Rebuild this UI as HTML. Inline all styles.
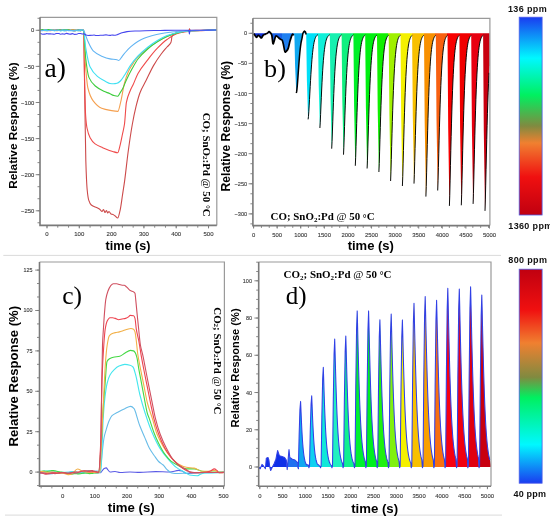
<!DOCTYPE html>
<html><head><meta charset="utf-8"><style>html,body{margin:0;padding:0;background:#fff;}body{width:550px;height:517px;overflow:hidden;}svg{display:block;will-change:transform;}</style></head>
<body><svg width="550" height="517" viewBox="0 0 550 517"><path d="M3.3,255.4 H501" stroke="#dadada" stroke-width="1"/>
<path d="M5,515.1 H502" stroke="#dadada" stroke-width="1"/>
<path d="M40.5,30.22 C41.17,30.17 41.83,30.05 42.5,30.05 C43.17,30.05 43.83,30.55 44.5,30.55 C45.17,30.55 45.83,29.97 46.5,29.97 C47.17,29.97 47.83,30.44 48.5,30.44 C49.17,30.44 49.83,30.34 50.5,30.27 C51.17,30.19 51.83,29.96 52.5,29.96 C53.17,29.96 53.83,30.41 54.5,30.41 C55.17,30.41 55.83,29.94 56.5,29.94 C57.17,29.94 57.83,30.33 58.5,30.33 C59.17,30.33 59.83,29.97 60.5,29.97 C61.17,29.97 61.83,29.98 62.5,29.99 C63.17,30 63.83,30.2 64.5,30.32 C65.17,30.45 65.83,30.73 66.5,30.73 C67.17,30.73 67.83,30.02 68.5,30.02 C69.17,30.02 69.83,30.07 70.5,30.12 C71.17,30.18 71.83,30.41 72.5,30.53 C73.17,30.65 73.83,30.85 74.5,30.85 C75.17,30.85 75.83,30.56 76.5,30.48 C77.17,30.4 77.83,30.3 78.5,30.3 C79.17,30.3 79.83,30.88 80.5,30.88 C81.17,30.88 81.83,29.95 82.5,29.95 C82.87,29.95 83.23,30.1 83.6,30.4 C84,30.72 84.4,76.39 84.8,100 C85.13,119.67 85.47,149.19 85.8,160 C86.27,175.14 86.73,185.29 87.2,190 C87.73,195.38 88.27,198.81 88.8,200.4 C89.63,202.89 90.47,204.31 91.3,205 C93.4,206.74 95.5,206.84 97.6,208 C98.4,208.44 99.2,208.88 100,209.5 C100.67,210.02 101.33,211.5 102,211.5 C102.5,211.5 103,209.5 103.5,209.5 C104,209.5 104.5,212.5 105,212.5 C105.5,212.5 106,210.5 106.5,210.5 C106.9,210.5 107.3,213 107.7,213 C108.13,213 108.57,211.5 109,211.5 C109.67,211.5 110.33,213.72 111,214 C111.67,214.28 112.33,214.26 113,214.5 C113.73,214.77 114.47,215.46 115.2,216 C116.03,216.61 116.87,218 117.7,218 C118.53,218 119.37,213.44 120.2,209.8 C120.97,206.45 121.73,200.03 122.5,195 C123.27,189.97 124.03,185.25 124.8,179.6 C125.87,171.73 126.93,160.93 128,153 C129.4,142.59 130.8,132.82 132.2,125 C133.5,117.74 134.8,111.44 136.1,106.2 C137.4,100.96 138.7,96.05 140,92.7 C141.93,87.71 143.87,84.98 145.8,81.1 C148.37,75.95 150.93,70.02 153.5,65.6 C156.07,61.18 158.63,57.42 161.2,54 C163.13,51.42 165.07,49.28 167,47 C168.3,45.47 169.6,45.21 170.9,42.5 C171.07,42.15 171.23,41.4 171.4,40.5 C171.57,39.6 171.73,36.7 171.9,36.4 C173.5,33.49 175.1,33.16 176.7,32.7 C178.4,32.21 180.1,32.1 181.8,31.8 C184.2,31.37 186.6,31.61 189,30.5 C189.17,30.42 189.33,28.8 189.5,28.8 C189.73,28.8 189.97,30.5 190.2,30.5 C193.47,30.5 196.73,30.26 200,30.2 C205.47,30.1 210.93,30.07 216.4,30" fill="none" stroke="#cc4a4a" stroke-width="1.1" stroke-linejoin="round" stroke-linecap="round"/>
<path d="M40.5,30.29 C41.17,30.3 41.83,30.32 42.5,30.32 C43.17,30.32 43.83,30.07 44.5,29.99 C45.17,29.9 45.83,29.84 46.5,29.76 C47.17,29.68 47.83,29.5 48.5,29.5 C49.17,29.5 49.83,30.16 50.5,30.16 C51.17,30.16 51.83,29.97 52.5,29.97 C53.17,29.97 53.83,30.26 54.5,30.26 C55.17,30.26 55.83,29.87 56.5,29.87 C57.17,29.87 57.83,30.27 58.5,30.27 C59.17,30.27 59.83,29.77 60.5,29.77 C61.17,29.77 61.83,30.3 62.5,30.3 C63.17,30.3 63.83,30.27 64.5,30.23 C65.17,30.19 65.83,29.91 66.5,29.91 C67.17,29.91 67.83,29.99 68.5,30.04 C69.17,30.08 69.83,30.18 70.5,30.18 C71.17,30.18 71.83,29.69 72.5,29.69 C73.17,29.69 73.83,29.95 74.5,30.05 C75.17,30.15 75.83,30.31 76.5,30.31 C77.17,30.31 77.83,29.77 78.5,29.77 C79.17,29.77 79.83,30.3 80.5,30.3 C81.17,30.3 81.83,30.25 82.5,30.19 C82.87,30.15 83.23,30 83.6,30 C83.93,30 84.27,66.27 84.6,80 C84.93,93.73 85.27,109.94 85.6,115 C86.07,122.08 86.53,125.67 87,128 C88.03,133.16 89.07,135.8 90.1,137.7 C91.77,140.76 93.43,142.67 95.1,143.9 C97.6,145.75 100.1,146.61 102.6,147.7 C105.97,149.16 109.33,150.54 112.7,151.5 C114.37,151.98 116.03,152.7 117.7,152.7 C118.53,152.7 119.37,147.96 120.2,144.8 C120.97,141.9 121.73,137.72 122.5,134 C123.17,130.77 123.83,128.65 124.5,124 C125.13,119.59 125.77,105.66 126.4,102.4 C127.7,95.7 129,93.68 130.3,90.5 C131.27,88.14 132.23,86.6 133.2,84.5 C134.8,81.02 136.4,76.27 138,73.4 C141.23,67.6 144.47,63.97 147.7,59.8 C150.93,55.63 154.17,51.53 157.4,48.2 C160.6,44.9 163.8,41.81 167,39.5 C170.23,37.17 173.47,34.68 176.7,33.7 C179.8,32.76 182.9,32.14 186,31.8 C191.17,31.23 196.33,30.99 201.5,30.7 C206.47,30.42 211.43,30.23 216.4,30" fill="none" stroke="#ef4b4b" stroke-width="1.1" stroke-linejoin="round" stroke-linecap="round"/>
<path d="M40.5,30.42 C41.17,30.46 41.83,30.52 42.5,30.54 C43.17,30.57 43.83,30.57 44.5,30.6 C45.17,30.62 45.83,30.74 46.5,30.74 C47.17,30.74 47.83,30.54 48.5,30.54 C49.17,30.54 49.83,30.72 50.5,30.72 C51.17,30.72 51.83,29.83 52.5,29.83 C53.17,29.83 53.83,30.11 54.5,30.27 C55.17,30.42 55.83,30.74 56.5,30.74 C57.17,30.74 57.83,30.45 58.5,30.45 C59.17,30.45 59.83,30.7 60.5,30.7 C61.17,30.7 61.83,29.91 62.5,29.91 C63.17,29.91 63.83,30.27 64.5,30.27 C65.17,30.27 65.83,30.05 66.5,30.05 C67.17,30.05 67.83,30.33 68.5,30.34 C69.17,30.36 69.83,30.37 70.5,30.37 C71.17,30.37 71.83,29.81 72.5,29.81 C73.17,29.81 73.83,29.98 74.5,30.02 C75.17,30.05 75.83,30.04 76.5,30.08 C77.17,30.12 77.83,30.72 78.5,30.72 C79.17,30.72 79.83,30.65 80.5,30.57 C81.17,30.49 81.83,29.96 82.5,29.96 C82.87,29.96 83.23,30.09 83.6,30.3 C84.17,30.62 84.73,55.12 85.3,62.6 C86.17,74.04 87.03,84.37 87.9,88 C89.67,95.39 91.43,98.55 93.2,100.9 C96.03,104.67 98.87,107.21 101.7,108.3 C104.53,109.39 107.37,109.92 110.2,110.4 C112.73,110.83 115.27,111.4 117.8,111.4 C118.73,111.4 119.67,106 120.6,102.4 C121.9,97.38 123.2,87.84 124.5,83 C125.8,78.16 127.1,74.22 128.4,71.4 C130.33,67.21 132.27,64.58 134.2,61.8 C135.47,59.98 136.73,58.26 138,56.9 C141.23,53.43 144.47,50.92 147.7,48.4 C150.93,45.88 154.17,43.58 157.4,41.6 C160.6,39.64 163.8,37.79 167,36.4 C170.23,35 173.47,33.65 176.7,32.9 C180.47,32.03 184.23,31.24 188,31 C197.47,30.39 206.93,30.33 216.4,30" fill="none" stroke="#f5a050" stroke-width="1.1" stroke-linejoin="round" stroke-linecap="round"/>
<path d="M40.5,29.74 C41.17,29.69 41.83,29.6 42.5,29.6 C43.17,29.6 43.83,29.9 44.5,29.9 C45.17,29.9 45.83,29.7 46.5,29.65 C47.17,29.61 47.83,29.57 48.5,29.57 C49.17,29.57 49.83,29.77 50.5,29.9 C51.17,30.04 51.83,30.42 52.5,30.42 C53.17,30.42 53.83,30.32 54.5,30.3 C55.17,30.28 55.83,30.29 56.5,30.27 C57.17,30.24 57.83,29.72 58.5,29.72 C59.17,29.72 59.83,30.04 60.5,30.04 C61.17,30.04 61.83,29.83 62.5,29.78 C63.17,29.73 63.83,29.7 64.5,29.67 C65.17,29.65 65.83,29.61 66.5,29.61 C67.17,29.61 67.83,29.65 68.5,29.71 C69.17,29.78 69.83,30.43 70.5,30.43 C71.17,30.43 71.83,30.34 72.5,30.33 C73.17,30.32 73.83,30.31 74.5,30.31 C75.17,30.3 75.83,30.3 76.5,30.3 C77.17,30.3 77.83,29.69 78.5,29.69 C79.17,29.69 79.83,29.75 80.5,29.81 C81.17,29.87 81.83,30.13 82.5,30.13 C82.87,30.13 83.23,30 83.6,30 C84.3,30 85,52.35 85.7,58.3 C86.77,67.37 87.83,74.88 88.9,77.4 C91.03,82.43 93.17,84.15 95.3,86 C98.13,88.46 100.97,89.96 103.8,91.3 C105.87,92.28 107.93,92.8 110,93.7 C111.17,94.21 112.33,95.05 113.5,95.4 C114.93,95.83 116.37,96.3 117.8,96.3 C118.53,96.3 119.27,94.14 120,93 C120.87,91.65 121.73,90.43 122.6,88.8 C123.87,86.42 125.13,82.71 126.4,80 C128.33,75.87 130.27,72.07 132.2,68.6 C134.13,65.13 136.07,61.51 138,59 C141.23,54.81 144.47,51.79 147.7,49 C150.93,46.21 154.17,43.82 157.4,41.8 C160.6,39.8 163.8,37.99 167,36.6 C170.23,35.2 173.47,33.9 176.7,33.1 C180.47,32.17 184.23,31.25 188,31 C197.47,30.38 206.93,30.33 216.4,30" fill="none" stroke="#3ccc3c" stroke-width="1.1" stroke-linejoin="round" stroke-linecap="round"/>
<path d="M40.5,30.24 C41.17,30.34 41.83,30.54 42.5,30.54 C43.17,30.54 43.83,30.37 44.5,30.37 C45.17,30.37 45.83,30.59 46.5,30.6 C47.17,30.62 47.83,30.63 48.5,30.63 C49.17,30.63 49.83,30.1 50.5,30.07 C51.17,30.03 51.83,30.01 52.5,30.01 C53.17,30.01 53.83,30.84 54.5,30.84 C55.17,30.84 55.83,30.28 56.5,30.26 C57.17,30.24 57.83,30.23 58.5,30.23 C59.17,30.23 59.83,31 60.5,31 C61.17,31 61.83,30.47 62.5,30.47 C63.17,30.47 63.83,30.84 64.5,30.84 C65.17,30.84 65.83,30.48 66.5,30.48 C67.17,30.48 67.83,30.64 68.5,30.64 C69.17,30.64 69.83,30.15 70.5,30.15 C71.17,30.15 71.83,30.53 72.5,30.63 C73.17,30.74 73.83,30.87 74.5,30.87 C75.17,30.87 75.83,30.52 76.5,30.52 C77.17,30.52 77.83,30.74 78.5,30.74 C79.17,30.74 79.83,30.71 80.5,30.67 C81.17,30.63 81.83,30.06 82.5,30.06 C82.87,30.06 83.23,30.25 83.6,30.5 C84.3,30.98 85,43.53 85.7,47.7 C87.13,56.25 88.57,63.78 90,66.8 C92.47,72.01 94.93,74.32 97.4,76.4 C100.27,78.82 103.13,80.24 106,81.7 C107.33,82.38 108.67,83.31 110,83.5 C111.13,83.66 112.27,83.8 113.4,83.8 C114.6,83.8 115.8,83.58 117,83.3 C118.13,83.04 119.27,82.02 120.4,81 C121.77,79.77 123.13,77.36 124.5,75.3 C126.43,72.38 128.37,68.38 130.3,65.6 C132.87,61.91 135.43,58.71 138,56 C141.23,52.58 144.47,49.74 147.7,47.2 C150.93,44.66 154.17,42.4 157.4,40.5 C160.6,38.62 163.8,36.81 167,35.6 C170.23,34.38 173.47,33.34 176.7,32.7 C181.13,31.83 185.57,31.04 190,30.8 C198.8,30.33 207.6,30.27 216.4,30" fill="none" stroke="#3ee0f2" stroke-width="1.1" stroke-linejoin="round" stroke-linecap="round"/>
<path d="M40.5,30.66 C41.17,30.65 41.83,30.65 42.5,30.65 C43.17,30.64 43.83,29.76 44.5,29.76 C45.17,29.76 45.83,29.77 46.5,29.78 C47.17,29.8 47.83,30.54 48.5,30.54 C49.17,30.54 49.83,30.46 50.5,30.44 C51.17,30.41 51.83,30.41 52.5,30.37 C53.17,30.33 53.83,30.01 54.5,30.01 C55.17,30.01 55.83,30.31 56.5,30.31 C57.17,30.31 57.83,30.31 58.5,30.31 C59.17,30.31 59.83,30.3 60.5,30.28 C61.17,30.27 61.83,29.86 62.5,29.86 C63.17,29.86 63.83,30.13 64.5,30.13 C65.17,30.13 65.83,30.09 66.5,30.09 C67.17,30.09 67.83,30.32 68.5,30.42 C69.17,30.52 69.83,30.69 70.5,30.69 C71.17,30.69 71.83,30.68 72.5,30.65 C73.17,30.62 73.83,30.3 74.5,30.24 C75.17,30.19 75.83,30.19 76.5,30.14 C77.17,30.1 77.83,30.04 78.5,29.97 C79.17,29.9 79.83,29.74 80.5,29.74 C81.17,29.73 81.83,29.73 82.5,29.73 C82.87,29.73 83.23,29.95 83.6,30.2 C84.23,30.64 84.87,33.37 85.5,35 C86.3,37.06 87.1,39.54 87.9,41.3 C89.67,45.18 91.43,49.2 93.2,50.9 C96.03,53.63 98.87,54.99 101.7,56.2 C104.47,57.38 107.23,58.4 110,58.9 C112.33,59.32 114.67,59.29 117,59.8 C117.57,59.92 118.13,60.5 118.7,60.5 C119.87,60.5 121.03,57.72 122.2,56.3 C123.37,54.88 124.53,53.31 125.7,52 C127.43,50.06 129.17,48.21 130.9,46.7 C133.2,44.69 135.5,42.88 137.8,41.5 C140.13,40.1 142.47,38.91 144.8,38 C147.1,37.1 149.4,36.44 151.7,35.8 C154.6,35 157.5,34.23 160.4,33.7 C163.6,33.12 166.8,32.7 170,32.3 C173.33,31.88 176.67,31.39 180,31.2 C186.67,30.82 193.33,30.72 200,30.5 C205.47,30.32 210.93,30.17 216.4,30" fill="none" stroke="#62b4f2" stroke-width="1.1" stroke-linejoin="round" stroke-linecap="round"/>
<path d="M40.5,33.53 C41.17,33.77 41.83,34.25 42.5,34.25 C43.17,34.25 43.83,34.21 44.5,34.16 C45.17,34.12 45.83,33.66 46.5,33.66 C47.17,33.66 47.83,33.9 48.5,33.9 C49.17,33.9 49.83,33.85 50.5,33.85 C51.17,33.85 51.83,34 52.5,34.05 C53.17,34.11 53.83,34.19 54.5,34.19 C55.17,34.19 55.83,33.53 56.5,33.49 C57.17,33.45 57.83,33.43 58.5,33.43 C59.17,33.43 59.83,34.24 60.5,34.24 C61.17,34.24 61.83,33.83 62.5,33.83 C63.17,33.83 63.83,34.16 64.5,34.16 C65.17,34.16 65.83,33.4 66.5,33.4 C67.17,33.4 67.83,33.73 68.5,33.85 C69.17,33.96 69.83,34.12 70.5,34.12 C71.17,34.12 71.83,33.63 72.5,33.63 C73.17,33.63 73.83,34.35 74.5,34.35 C75.17,34.35 75.83,34.33 76.5,34.3 C77.17,34.27 77.83,33.43 78.5,33.43 C79.17,33.43 79.83,33.43 80.5,33.43 C81.17,33.43 81.83,33.94 82.5,33.94 C83,33.94 83.5,33.9 84,33.9 C84.67,33.9 85.33,34.83 86,35.03 C86.67,35.24 87.33,35.45 88,35.45 C88.67,35.45 89.33,35.43 90,35.41 C90.67,35.39 91.33,35.34 92,35.28 C92.67,35.23 93.33,35.07 94,35.07 C94.67,35.07 95.33,35.53 96,35.53 C96.67,35.54 97.33,35.55 98,35.55 C98.67,35.55 99.33,35.31 100,35.31 C100.67,35.31 101.33,35.31 102,35.3 C102.67,35.3 103.33,35.16 104,35.09 C104.67,35.02 105.33,34.9 106,34.9 C106.67,34.9 107.33,35.12 108,35.2 C108.67,35.27 109.33,35.37 110,35.37 C110.67,35.37 111.33,34.96 112,34.96 C112.67,34.96 113.33,35.3 114,35.3 C115.33,35.3 116.67,34.78 118,34.4 C119.33,34.02 120.67,33.2 122,32.8 C123.67,32.3 125.33,31.8 127,31.6 C129.67,31.28 132.33,31.12 135,31 C138.33,30.85 141.67,30.76 145,30.7 C150,30.61 155,30.57 160,30.5 C165,30.43 170,30.3 175,30.3 C179.6,30.3 184.2,30.3 188.8,30.3 C189,30.3 189.2,34.3 189.4,34.3 C189.6,34.3 189.8,30.31 190,30.3 C193.33,30.21 196.67,30.24 200,30.2 C205.47,30.14 210.93,30.07 216.4,30" fill="none" stroke="#4646ee" stroke-width="1.1" stroke-linejoin="round" stroke-linecap="round"/>
<path d="M40,17.3 H216.8 V225.4" fill="none" stroke="#9a9a9a" stroke-width="1.2"/>
<path d="M40,17.3 V225.4 H216.8" fill="none" stroke="#7a7a7a" stroke-width="1.6"/>
<path d="M37.5,18.27 H40 M37.5,30.3 H40 M37.5,42.33 H40 M37.5,54.36 H40 M37.5,66.39 H40 M37.5,78.42 H40 M37.5,90.45 H40 M37.5,102.48 H40 M37.5,114.51 H40 M37.5,126.54 H40 M37.5,138.57 H40 M37.5,150.6 H40 M37.5,162.63 H40 M37.5,174.66 H40 M37.5,186.69 H40 M37.5,198.72 H40 M37.5,210.75 H40 M37.5,222.78 H40 M35.7,30.3 H40 M35.7,66.4 H40 M35.7,102.5 H40 M35.7,138.6 H40 M35.7,174.7 H40 M35.7,210.8 H40 " stroke="#7a7a7a" stroke-width="0.9" fill="none"/>
<text x="34.3" y="32.42" font-family='"Liberation Sans", sans-serif' font-size="5.9" font-weight="normal" text-anchor="end" fill="#3a3a3a" stroke="#3a3a3a" stroke-width="0.12">0</text>
<text x="34.3" y="68.52" font-family='"Liberation Sans", sans-serif' font-size="5.9" font-weight="normal" text-anchor="end" fill="#3a3a3a" stroke="#3a3a3a" stroke-width="0.12">−50</text>
<text x="34.3" y="104.62" font-family='"Liberation Sans", sans-serif' font-size="5.9" font-weight="normal" text-anchor="end" fill="#3a3a3a" stroke="#3a3a3a" stroke-width="0.12">−100</text>
<text x="34.3" y="140.72" font-family='"Liberation Sans", sans-serif' font-size="5.9" font-weight="normal" text-anchor="end" fill="#3a3a3a" stroke="#3a3a3a" stroke-width="0.12">−150</text>
<text x="34.3" y="176.82" font-family='"Liberation Sans", sans-serif' font-size="5.9" font-weight="normal" text-anchor="end" fill="#3a3a3a" stroke="#3a3a3a" stroke-width="0.12">−200</text>
<text x="34.3" y="212.92" font-family='"Liberation Sans", sans-serif' font-size="5.9" font-weight="normal" text-anchor="end" fill="#3a3a3a" stroke="#3a3a3a" stroke-width="0.12">−250</text>
<path d="M47,225.4 V227.7 M57.77,225.4 V227.7 M68.54,225.4 V227.7 M79.31,225.4 V227.7 M90.08,225.4 V227.7 M100.85,225.4 V227.7 M111.62,225.4 V227.7 M122.39,225.4 V227.7 M133.16,225.4 V227.7 M143.93,225.4 V227.7 M154.7,225.4 V227.7 M165.47,225.4 V227.7 M176.24,225.4 V227.7 M187.01,225.4 V227.7 M197.78,225.4 V227.7 M208.55,225.4 V227.7 M47,225.4 V228.4 M79.3,225.4 V228.4 M111.6,225.4 V228.4 M143.9,225.4 V228.4 M176.2,225.4 V228.4 M208.5,225.4 V228.4 " stroke="#7a7a7a" stroke-width="0.9" fill="none"/>
<text x="47" y="236" font-family='"Liberation Sans", sans-serif' font-size="6" font-weight="normal" text-anchor="middle" fill="#3a3a3a" stroke="#3a3a3a" stroke-width="0.12">0</text>
<text x="79.3" y="236" font-family='"Liberation Sans", sans-serif' font-size="6" font-weight="normal" text-anchor="middle" fill="#3a3a3a" stroke="#3a3a3a" stroke-width="0.12">100</text>
<text x="111.6" y="236" font-family='"Liberation Sans", sans-serif' font-size="6" font-weight="normal" text-anchor="middle" fill="#3a3a3a" stroke="#3a3a3a" stroke-width="0.12">200</text>
<text x="143.9" y="236" font-family='"Liberation Sans", sans-serif' font-size="6" font-weight="normal" text-anchor="middle" fill="#3a3a3a" stroke="#3a3a3a" stroke-width="0.12">300</text>
<text x="176.2" y="236" font-family='"Liberation Sans", sans-serif' font-size="6" font-weight="normal" text-anchor="middle" fill="#3a3a3a" stroke="#3a3a3a" stroke-width="0.12">400</text>
<text x="208.5" y="236" font-family='"Liberation Sans", sans-serif' font-size="6" font-weight="normal" text-anchor="middle" fill="#3a3a3a" stroke="#3a3a3a" stroke-width="0.12">500</text>
<text x="12.5" y="125.5" font-family='"Liberation Sans", sans-serif' font-size="11.8" font-weight="bold" text-anchor="middle" fill="#000" transform="rotate(-90 12.5 125.5)" dominant-baseline="central">Relative Response (%)</text>
<text x="128" y="250" font-family='"Liberation Sans", sans-serif' font-size="12.6" font-weight="bold" text-anchor="middle" fill="#000" >time (s)</text>
<text x="55.2" y="77.4" font-family='"Liberation Serif", serif' font-size="27.5" font-weight="normal" text-anchor="middle" fill="#000" >a)</text>
<text x="206.8" y="164.7" font-family='"Liberation Serif", serif' font-size="10.9" font-weight="bold" text-anchor="middle" fill="#000"  transform="rotate(90 206.8 164.7)" dominant-baseline="central">CO; SnO<tspan font-size="7" dy="2">2</tspan><tspan dy="-2">:Pd <tspan font-weight="normal">@</tspan> 50 </tspan><tspan font-size="9.5" dy="1.8">°</tspan><tspan dy="-1.8">C</tspan></text>
<defs><linearGradient id="gb" gradientUnits="userSpaceOnUse" x1="253" y1="0" x2="490" y2="0"><stop offset="0.0000" stop-color="#1030d8"/><stop offset="0.0734" stop-color="#1030d8"/><stop offset="0.0734" stop-color="#1860e8"/><stop offset="0.1232" stop-color="#1860e8"/><stop offset="0.1232" stop-color="#2080f0"/><stop offset="0.1730" stop-color="#2080f0"/><stop offset="0.1730" stop-color="#10a8f0"/><stop offset="0.2227" stop-color="#10a8f0"/><stop offset="0.2227" stop-color="#00e0f8"/><stop offset="0.2725" stop-color="#00e0f8"/><stop offset="0.2725" stop-color="#10f0d8"/><stop offset="0.3222" stop-color="#10f0d8"/><stop offset="0.3222" stop-color="#18f0b0"/><stop offset="0.3720" stop-color="#18f0b0"/><stop offset="0.3720" stop-color="#10f080"/><stop offset="0.4217" stop-color="#10f080"/><stop offset="0.4217" stop-color="#00f028"/><stop offset="0.4715" stop-color="#00f028"/><stop offset="0.4715" stop-color="#00f010"/><stop offset="0.5212" stop-color="#00f010"/><stop offset="0.5212" stop-color="#10f000"/><stop offset="0.5710" stop-color="#10f000"/><stop offset="0.5710" stop-color="#a0f000"/><stop offset="0.6207" stop-color="#a0f000"/><stop offset="0.6207" stop-color="#f4f000"/><stop offset="0.6705" stop-color="#f4f000"/><stop offset="0.6705" stop-color="#f8c000"/><stop offset="0.7202" stop-color="#f8c000"/><stop offset="0.7202" stop-color="#f89000"/><stop offset="0.7700" stop-color="#f89000"/><stop offset="0.7700" stop-color="#f86010"/><stop offset="0.8197" stop-color="#f86010"/><stop offset="0.8197" stop-color="#f80000"/><stop offset="0.8695" stop-color="#f80000"/><stop offset="0.8695" stop-color="#f00000"/><stop offset="0.9192" stop-color="#f00000"/><stop offset="0.9192" stop-color="#e80010"/><stop offset="0.9689" stop-color="#e80010"/><stop offset="0.9689" stop-color="#c80010"/><stop offset="1.0000" stop-color="#c80010"/></linearGradient></defs>
<path d="M253.3,33.3 L253.6,33.6 L254.9,35.3 L256.5,37.5 L258.2,35.3 L259.8,36.5 L261.5,38 L263.1,35.3 L265.3,34.2 L267.5,33.1 L269.1,31.5 L270.2,32.5 L271.8,35.3 L272.9,43.5 L274,41.8 L275.6,36.4 L277.3,36.4 L278.9,38 L281.1,39.6 L282.2,40.2 L283.3,44 L284.9,51.6 L286.5,51.1 L288.2,48.4 L289.8,41.8 L291.5,36.4 L292.5,34.2 L293.6,35.3 L294.4,35.5 L295.1,66.13 L296.3,93 L296.65,91.68 L297,88.82 L297.35,84.97 L297.7,80.48 L298.05,75.64 L298.4,70.69 L298.75,65.83 L299.1,61.2 L299.45,56.92 L299.8,53.05 L300.15,49.62 L300.5,46.65 L300.85,44.11 L301.2,41.99 L301.55,40.25 L301.9,38.83 L302.9,33.4 L303.7,31.8 L304.5,31.1 L305.4,31.8 L306.2,34.5 L306.9,80.66 L308.1,119.4 L308.45,116.63 L308.8,111.79 L309.15,105.95 L309.5,99.59 L309.85,93.06 L310.2,86.6 L310.55,80.37 L310.9,74.5 L311.25,69.07 L311.6,64.12 L311.95,59.66 L312.3,55.71 L312.65,52.24 L313,49.22 L313.35,46.62 L313.7,44.4 L314.05,42.52 L314.4,40.95 L314.75,39.63 L315.1,38.55 L315.45,37.65 L315.8,36.92 L316.15,36.33 L316.5,35.86 L316.85,35.47 L317.2,35.17 L317.55,34.93 L317.9,34.74 L318,34.69 L318.7,85.39 L319.9,128 L320.25,122.18 L320.6,114.31 L320.95,106 L321.3,97.8 L321.65,90 L322,82.76 L322.35,76.16 L322.7,70.22 L323.05,64.94 L323.4,60.29 L323.75,56.23 L324.1,52.71 L324.45,49.68 L324.8,47.1 L325.15,44.89 L325.5,43.03 L325.85,41.47 L326.2,40.15 L326.55,39.06 L326.9,38.15 L327.25,37.39 L327.6,36.77 L327.95,36.26 L328.3,35.85 L328.65,35.5 L329,35.23 L329.35,35 L329.7,34.82 L329.8,34.78 L330.5,96.77 L331.7,148.7 L332.05,141.6 L332.4,131.99 L332.75,121.85 L333.1,111.84 L333.45,102.33 L333.8,93.49 L334.15,85.43 L334.5,78.18 L334.85,71.74 L335.2,66.06 L335.55,61.11 L335.9,56.81 L336.25,53.12 L336.6,49.96 L336.95,47.27 L337.3,45 L337.65,43.09 L338,41.49 L338.35,40.15 L338.7,39.04 L339.05,38.12 L339.4,37.36 L339.75,36.74 L340.1,36.23 L340.45,35.81 L340.8,35.48 L341.15,35.2 L341.5,34.98 L341.6,34.92 L342.3,100.07 L343.5,154.7 L343.85,147.22 L344.2,137.12 L344.55,126.44 L344.9,115.92 L345.25,105.9 L345.6,96.6 L345.95,88.12 L346.3,80.49 L346.65,73.71 L347,67.73 L347.35,62.52 L347.7,58 L348.05,54.12 L348.4,50.79 L348.75,47.96 L349.1,45.57 L349.45,43.56 L349.8,41.87 L350.15,40.47 L350.5,39.3 L350.85,38.33 L351.2,37.53 L351.55,36.88 L351.9,36.34 L352.25,35.9 L352.6,35.55 L352.95,35.26 L353.3,35.03 L353.4,34.97 L354.1,106.17 L355.3,165.8 L355.65,157.64 L356,146.6 L356.35,134.94 L356.7,123.45 L357.05,112.51 L357.4,102.35 L357.75,93.09 L358.1,84.76 L358.45,77.35 L358.8,70.83 L359.15,65.14 L359.5,60.2 L359.85,55.96 L360.2,52.33 L360.55,49.24 L360.9,46.63 L361.25,44.43 L361.6,42.59 L361.95,41.05 L362.3,39.78 L362.65,38.72 L363,37.85 L363.35,37.13 L363.7,36.55 L364.05,36.07 L364.4,35.68 L364.75,35.37 L365.1,35.11 L365.2,35.05 L365.9,107.66 L367.1,168.5 L367.45,160.17 L367.8,148.91 L368.15,137.01 L368.5,125.28 L368.85,114.12 L369.2,103.75 L369.55,94.3 L369.9,85.8 L370.25,78.24 L370.6,71.58 L370.95,65.77 L371.3,60.74 L371.65,56.41 L372,52.7 L372.35,49.55 L372.7,46.89 L373.05,44.64 L373.4,42.76 L373.75,41.2 L374.1,39.89 L374.45,38.81 L374.8,37.93 L375.15,37.2 L375.5,36.6 L375.85,36.11 L376.2,35.71 L376.55,35.39 L376.9,35.13 L377,35.07 L377.7,109.58 L378.9,172 L379.25,163.45 L379.6,151.89 L379.95,139.69 L380.3,127.65 L380.65,116.2 L381,105.57 L381.35,95.87 L381.7,87.14 L382.05,79.39 L382.4,72.56 L382.75,66.6 L383.1,61.43 L383.45,56.99 L383.8,53.19 L384.15,49.95 L384.5,47.22 L384.85,44.92 L385.2,42.99 L385.55,41.38 L385.9,40.04 L386.25,38.94 L386.6,38.03 L386.95,37.28 L387.3,36.66 L387.65,36.16 L388,35.76 L388.35,35.43 L388.7,35.16 L389.4,114.53 L390.6,181 L390.95,171.89 L391.3,159.58 L391.65,146.58 L392,133.76 L392.35,121.56 L392.7,110.23 L393.05,99.9 L393.4,90.61 L393.75,82.34 L394.1,75.07 L394.45,68.72 L394.8,63.22 L395.15,58.48 L395.5,54.43 L395.85,50.99 L396.2,48.07 L396.55,45.62 L396.9,43.57 L397.25,41.86 L397.6,40.43 L397.95,39.25 L398.3,38.28 L398.65,37.48 L399,36.83 L399.35,36.3 L399.7,35.86 L400.05,35.51 L400.4,35.23 L400.5,35.16 L401.2,117.28 L402.4,186 L402.75,176.58 L403.1,163.85 L403.45,150.41 L403.8,137.15 L404.15,124.53 L404.5,112.82 L404.85,102.14 L405.2,92.53 L405.55,83.99 L405.9,76.46 L406.25,69.9 L406.6,64.21 L406.95,59.31 L407.3,55.12 L407.65,51.56 L408,48.55 L408.35,46.02 L408.7,43.89 L409.05,42.12 L409.4,40.65 L409.75,39.43 L410.1,38.42 L410.45,37.6 L410.8,36.92 L411.15,36.37 L411.5,35.92 L411.85,35.56 L412.1,35.34 L412.8,115.97 L414,183.6 L414.35,174.33 L414.7,161.8 L415.05,148.57 L415.4,135.52 L415.75,123.11 L416.1,111.58 L416.45,101.06 L416.8,91.61 L417.15,83.2 L417.5,75.79 L417.85,69.33 L418.2,63.73 L418.55,58.91 L418.9,54.79 L419.25,51.29 L419.6,48.32 L419.95,45.83 L420.3,43.74 L420.65,41.99 L421,40.54 L421.35,39.34 L421.7,38.36 L422.05,37.54 L422.4,36.88 L422.75,36.34 L423.1,35.9 L423.45,35.54 L423.8,35.25 L424,35.11 L424.7,123.12 L425.9,196.6 L426.25,186.53 L426.6,172.91 L426.95,158.53 L427.3,144.34 L427.65,130.84 L428,118.31 L428.35,106.89 L428.7,96.61 L429.05,87.47 L429.4,79.42 L429.75,72.39 L430.1,66.31 L430.45,61.07 L430.8,56.59 L431.15,52.78 L431.5,49.56 L431.85,46.85 L432.2,44.57 L432.55,42.68 L432.9,41.1 L433.25,39.8 L433.6,38.73 L433.95,37.84 L434.3,37.12 L434.65,36.53 L435,36.05 L435.35,35.66 L435.7,35.35 L435.8,35.27 L436.5,119.76 L437.7,190.5 L438.05,180.8 L438.4,167.7 L438.75,153.86 L439.1,140.2 L439.45,127.21 L439.8,115.15 L440.15,104.15 L440.5,94.26 L440.85,85.46 L441.2,77.72 L441.55,70.96 L441.9,65.1 L442.25,60.06 L442.6,55.75 L442.95,52.08 L443.3,48.98 L443.65,46.37 L444,44.18 L444.35,42.36 L444.7,40.84 L445.05,39.59 L445.4,38.55 L445.75,37.7 L446.1,37.01 L446.45,36.44 L446.8,35.98 L447.15,35.6 L447.5,35.3 L448.2,128.23 L449.4,205.9 L449.75,195.25 L450.1,180.85 L450.45,165.65 L450.8,150.65 L451.15,136.38 L451.5,123.13 L451.85,111.05 L452.2,100.18 L452.55,90.52 L452.9,82.01 L453.25,74.59 L453.6,68.15 L453.95,62.61 L454.3,57.88 L454.65,53.85 L455,50.44 L455.35,47.58 L455.7,45.17 L456.05,43.17 L456.4,41.5 L456.75,40.13 L457.1,38.99 L457.45,38.06 L457.8,37.29 L458.15,36.67 L458.5,36.16 L458.85,35.75 L459.2,35.42 L459.4,35.26 L460.1,127.9 L461.3,205.3 L461.65,194.69 L462,180.34 L462.35,165.19 L462.7,150.24 L463.05,136.02 L463.4,122.82 L463.75,110.78 L464.1,99.95 L464.45,90.32 L464.8,81.85 L465.15,74.44 L465.5,68.03 L465.85,62.51 L466.2,57.79 L466.55,53.78 L466.9,50.39 L467.25,47.53 L467.6,45.14 L467.95,43.14 L468.3,41.48 L468.65,40.11 L469,38.97 L469.35,38.04 L469.7,37.28 L470.05,36.66 L470.4,36.16 L470.75,35.75 L471.1,35.41 L471.2,35.33 L471.9,127.13 L473.1,203.9 L473.45,193.37 L473.8,179.14 L474.15,164.12 L474.5,149.29 L474.85,135.19 L475.2,122.1 L475.55,110.16 L475.9,99.41 L476.25,89.86 L476.6,81.46 L476.95,74.11 L477.3,67.75 L477.65,62.28 L478,57.6 L478.35,53.62 L478.7,50.25 L479.05,47.42 L479.4,45.05 L479.75,43.06 L480.1,41.42 L480.45,40.06 L480.8,38.93 L481.15,38.01 L481.5,37.26 L481.85,36.64 L482.2,36.14 L482.55,35.73 L482.9,35.4 L483.1,35.25 L483.8,130.98 L485,210.9 L485.35,199.94 L485.7,185.12 L486.05,169.48 L486.4,154.04 L486.75,139.36 L487.1,125.73 L487.45,113.29 L487.8,102.11 L488.15,92.16 L488.5,83.41 L488.85,75.76 L489,72.81 L489.4,66 L489.6,66 L489.6,33.3 Z" fill="url(#gb)"/>
<path d="M253.6,33.6 C253.82,33.88 254.42,34.65 254.9,35.3 C255.38,35.95 255.95,37.5 256.5,37.5 C257.05,37.5 257.65,35.47 258.2,35.3 C258.75,35.13 259.25,36.05 259.8,36.5 C260.35,36.95 260.95,38.2 261.5,38 C262.05,37.8 262.47,35.93 263.1,35.3 C263.73,34.67 264.57,34.57 265.3,34.2 C266.03,33.83 266.87,33.55 267.5,33.1 C268.13,32.65 268.65,31.6 269.1,31.5 C269.55,31.4 269.75,31.87 270.2,32.5 C270.65,33.13 271.35,33.47 271.8,35.3 C272.25,37.13 272.53,42.42 272.9,43.5 C273.27,44.58 273.55,42.98 274,41.8 C274.45,40.62 275.05,37.3 275.6,36.4 C276.15,35.5 276.75,36.13 277.3,36.4 C277.85,36.67 278.27,37.47 278.9,38 C279.53,38.53 280.55,39.23 281.1,39.6 C281.65,39.97 281.83,39.47 282.2,40.2 C282.57,40.93 282.85,42.1 283.3,44 C283.75,45.9 284.37,50.42 284.9,51.6 C285.43,52.78 285.95,51.63 286.5,51.1 C287.05,50.57 287.65,49.95 288.2,48.4 C288.75,46.85 289.25,43.8 289.8,41.8 C290.35,39.8 291.05,37.67 291.5,36.4 C291.95,35.13 292.15,34.38 292.5,34.2 C292.85,34.02 293.42,35.12 293.6,35.3" fill="none" stroke="#000" stroke-width="1.7" stroke-linejoin="round"/>
<path d="M296.3,93 L296.65,91.68 L297,88.82 L297.35,84.97 L297.7,80.48 L298.05,75.64 L298.4,70.69 L298.75,65.83 L299.1,61.2 L299.45,56.92 L299.8,53.05 L300.15,49.62 L300.5,46.65 L300.85,44.11 L301.2,41.99 L301.55,40.25 L301.9,38.83 L302.9,33.4 L303.7,31.8 L304.5,31.1 L305.4,31.8 L306.2,34.5" fill="none" stroke="#000" stroke-width="1.5" stroke-linejoin="round"/>
<path d="M308.1,119.4 L308.45,116.63 L308.8,111.79 L309.15,105.95 L309.5,99.59 L309.85,93.06 L310.2,86.6 L310.55,80.37 L310.9,74.5 L311.25,69.07 L311.6,64.12 L311.95,59.66 L312.3,55.71 L312.65,52.24 L313,49.22 L313.35,46.62 L313.7,44.4 L314.05,42.52 L314.4,40.95 L314.75,39.63 L315.1,38.55 L315.45,37.65 L315.8,36.92 L316.15,36.33 L316.5,35.86 L316.85,35.47 L317.2,35.17 L317.55,34.93 L317.9,34.74 L318,34.69" fill="none" stroke="#000" stroke-width="0.95" stroke-linejoin="round"/>
<path d="M319.9,128 L320.25,122.18 L320.6,114.31 L320.95,106 L321.3,97.8 L321.65,90 L322,82.76 L322.35,76.16 L322.7,70.22 L323.05,64.94 L323.4,60.29 L323.75,56.23 L324.1,52.71 L324.45,49.68 L324.8,47.1 L325.15,44.89 L325.5,43.03 L325.85,41.47 L326.2,40.15 L326.55,39.06 L326.9,38.15 L327.25,37.39 L327.6,36.77 L327.95,36.26 L328.3,35.85 L328.65,35.5 L329,35.23 L329.35,35 L329.7,34.82 L329.8,34.78" fill="none" stroke="#000" stroke-width="0.95" stroke-linejoin="round"/>
<path d="M331.7,148.7 L332.05,141.6 L332.4,131.99 L332.75,121.85 L333.1,111.84 L333.45,102.33 L333.8,93.49 L334.15,85.43 L334.5,78.18 L334.85,71.74 L335.2,66.06 L335.55,61.11 L335.9,56.81 L336.25,53.12 L336.6,49.96 L336.95,47.27 L337.3,45 L337.65,43.09 L338,41.49 L338.35,40.15 L338.7,39.04 L339.05,38.12 L339.4,37.36 L339.75,36.74 L340.1,36.23 L340.45,35.81 L340.8,35.48 L341.15,35.2 L341.5,34.98 L341.6,34.92" fill="none" stroke="#000" stroke-width="0.95" stroke-linejoin="round"/>
<path d="M343.5,154.7 L343.85,147.22 L344.2,137.12 L344.55,126.44 L344.9,115.92 L345.25,105.9 L345.6,96.6 L345.95,88.12 L346.3,80.49 L346.65,73.71 L347,67.73 L347.35,62.52 L347.7,58 L348.05,54.12 L348.4,50.79 L348.75,47.96 L349.1,45.57 L349.45,43.56 L349.8,41.87 L350.15,40.47 L350.5,39.3 L350.85,38.33 L351.2,37.53 L351.55,36.88 L351.9,36.34 L352.25,35.9 L352.6,35.55 L352.95,35.26 L353.3,35.03 L353.4,34.97" fill="none" stroke="#000" stroke-width="0.95" stroke-linejoin="round"/>
<path d="M355.3,165.8 L355.65,157.64 L356,146.6 L356.35,134.94 L356.7,123.45 L357.05,112.51 L357.4,102.35 L357.75,93.09 L358.1,84.76 L358.45,77.35 L358.8,70.83 L359.15,65.14 L359.5,60.2 L359.85,55.96 L360.2,52.33 L360.55,49.24 L360.9,46.63 L361.25,44.43 L361.6,42.59 L361.95,41.05 L362.3,39.78 L362.65,38.72 L363,37.85 L363.35,37.13 L363.7,36.55 L364.05,36.07 L364.4,35.68 L364.75,35.37 L365.1,35.11 L365.2,35.05" fill="none" stroke="#000" stroke-width="0.95" stroke-linejoin="round"/>
<path d="M367.1,168.5 L367.45,160.17 L367.8,148.91 L368.15,137.01 L368.5,125.28 L368.85,114.12 L369.2,103.75 L369.55,94.3 L369.9,85.8 L370.25,78.24 L370.6,71.58 L370.95,65.77 L371.3,60.74 L371.65,56.41 L372,52.7 L372.35,49.55 L372.7,46.89 L373.05,44.64 L373.4,42.76 L373.75,41.2 L374.1,39.89 L374.45,38.81 L374.8,37.93 L375.15,37.2 L375.5,36.6 L375.85,36.11 L376.2,35.71 L376.55,35.39 L376.9,35.13 L377,35.07" fill="none" stroke="#000" stroke-width="0.95" stroke-linejoin="round"/>
<path d="M378.9,172 L379.25,163.45 L379.6,151.89 L379.95,139.69 L380.3,127.65 L380.65,116.2 L381,105.57 L381.35,95.87 L381.7,87.14 L382.05,79.39 L382.4,72.56 L382.75,66.6 L383.1,61.43 L383.45,56.99 L383.8,53.19 L384.15,49.95 L384.5,47.22 L384.85,44.92 L385.2,42.99 L385.55,41.38 L385.9,40.04 L386.25,38.94 L386.6,38.03 L386.95,37.28 L387.3,36.66 L387.65,36.16 L388,35.76 L388.35,35.43 L388.7,35.16" fill="none" stroke="#000" stroke-width="0.95" stroke-linejoin="round"/>
<path d="M390.6,181 L390.95,171.89 L391.3,159.58 L391.65,146.58 L392,133.76 L392.35,121.56 L392.7,110.23 L393.05,99.9 L393.4,90.61 L393.75,82.34 L394.1,75.07 L394.45,68.72 L394.8,63.22 L395.15,58.48 L395.5,54.43 L395.85,50.99 L396.2,48.07 L396.55,45.62 L396.9,43.57 L397.25,41.86 L397.6,40.43 L397.95,39.25 L398.3,38.28 L398.65,37.48 L399,36.83 L399.35,36.3 L399.7,35.86 L400.05,35.51 L400.4,35.23 L400.5,35.16" fill="none" stroke="#000" stroke-width="0.95" stroke-linejoin="round"/>
<path d="M402.4,186 L402.75,176.58 L403.1,163.85 L403.45,150.41 L403.8,137.15 L404.15,124.53 L404.5,112.82 L404.85,102.14 L405.2,92.53 L405.55,83.99 L405.9,76.46 L406.25,69.9 L406.6,64.21 L406.95,59.31 L407.3,55.12 L407.65,51.56 L408,48.55 L408.35,46.02 L408.7,43.89 L409.05,42.12 L409.4,40.65 L409.75,39.43 L410.1,38.42 L410.45,37.6 L410.8,36.92 L411.15,36.37 L411.5,35.92 L411.85,35.56 L412.1,35.34" fill="none" stroke="#000" stroke-width="0.95" stroke-linejoin="round"/>
<path d="M414,183.6 L414.35,174.33 L414.7,161.8 L415.05,148.57 L415.4,135.52 L415.75,123.11 L416.1,111.58 L416.45,101.06 L416.8,91.61 L417.15,83.2 L417.5,75.79 L417.85,69.33 L418.2,63.73 L418.55,58.91 L418.9,54.79 L419.25,51.29 L419.6,48.32 L419.95,45.83 L420.3,43.74 L420.65,41.99 L421,40.54 L421.35,39.34 L421.7,38.36 L422.05,37.54 L422.4,36.88 L422.75,36.34 L423.1,35.9 L423.45,35.54 L423.8,35.25 L424,35.11" fill="none" stroke="#000" stroke-width="0.95" stroke-linejoin="round"/>
<path d="M425.9,196.6 L426.25,186.53 L426.6,172.91 L426.95,158.53 L427.3,144.34 L427.65,130.84 L428,118.31 L428.35,106.89 L428.7,96.61 L429.05,87.47 L429.4,79.42 L429.75,72.39 L430.1,66.31 L430.45,61.07 L430.8,56.59 L431.15,52.78 L431.5,49.56 L431.85,46.85 L432.2,44.57 L432.55,42.68 L432.9,41.1 L433.25,39.8 L433.6,38.73 L433.95,37.84 L434.3,37.12 L434.65,36.53 L435,36.05 L435.35,35.66 L435.7,35.35 L435.8,35.27" fill="none" stroke="#000" stroke-width="0.95" stroke-linejoin="round"/>
<path d="M437.7,190.5 L438.05,180.8 L438.4,167.7 L438.75,153.86 L439.1,140.2 L439.45,127.21 L439.8,115.15 L440.15,104.15 L440.5,94.26 L440.85,85.46 L441.2,77.72 L441.55,70.96 L441.9,65.1 L442.25,60.06 L442.6,55.75 L442.95,52.08 L443.3,48.98 L443.65,46.37 L444,44.18 L444.35,42.36 L444.7,40.84 L445.05,39.59 L445.4,38.55 L445.75,37.7 L446.1,37.01 L446.45,36.44 L446.8,35.98 L447.15,35.6 L447.5,35.3" fill="none" stroke="#000" stroke-width="0.95" stroke-linejoin="round"/>
<path d="M449.4,205.9 L449.75,195.25 L450.1,180.85 L450.45,165.65 L450.8,150.65 L451.15,136.38 L451.5,123.13 L451.85,111.05 L452.2,100.18 L452.55,90.52 L452.9,82.01 L453.25,74.59 L453.6,68.15 L453.95,62.61 L454.3,57.88 L454.65,53.85 L455,50.44 L455.35,47.58 L455.7,45.17 L456.05,43.17 L456.4,41.5 L456.75,40.13 L457.1,38.99 L457.45,38.06 L457.8,37.29 L458.15,36.67 L458.5,36.16 L458.85,35.75 L459.2,35.42 L459.4,35.26" fill="none" stroke="#000" stroke-width="0.95" stroke-linejoin="round"/>
<path d="M461.3,205.3 L461.65,194.69 L462,180.34 L462.35,165.19 L462.7,150.24 L463.05,136.02 L463.4,122.82 L463.75,110.78 L464.1,99.95 L464.45,90.32 L464.8,81.85 L465.15,74.44 L465.5,68.03 L465.85,62.51 L466.2,57.79 L466.55,53.78 L466.9,50.39 L467.25,47.53 L467.6,45.14 L467.95,43.14 L468.3,41.48 L468.65,40.11 L469,38.97 L469.35,38.04 L469.7,37.28 L470.05,36.66 L470.4,36.16 L470.75,35.75 L471.1,35.41 L471.2,35.33" fill="none" stroke="#000" stroke-width="0.95" stroke-linejoin="round"/>
<path d="M473.1,203.9 L473.45,193.37 L473.8,179.14 L474.15,164.12 L474.5,149.29 L474.85,135.19 L475.2,122.1 L475.55,110.16 L475.9,99.41 L476.25,89.86 L476.6,81.46 L476.95,74.11 L477.3,67.75 L477.65,62.28 L478,57.6 L478.35,53.62 L478.7,50.25 L479.05,47.42 L479.4,45.05 L479.75,43.06 L480.1,41.42 L480.45,40.06 L480.8,38.93 L481.15,38.01 L481.5,37.26 L481.85,36.64 L482.2,36.14 L482.55,35.73 L482.9,35.4 L483.1,35.25" fill="none" stroke="#000" stroke-width="0.95" stroke-linejoin="round"/>
<path d="M485,210.9 L485.35,199.94 L485.7,185.12 L486.05,169.48 L486.4,154.04 L486.75,139.36 L487.1,125.73 L487.45,113.29 L487.8,102.11 L488.15,92.16 L488.5,83.41 L488.85,75.76 L489,72.81" fill="none" stroke="#000" stroke-width="0.95" stroke-linejoin="round"/>
<path d="M252.9,18.3 H489.9 V225.6" fill="none" stroke="#9a9a9a" stroke-width="1.2"/>
<path d="M252.9,18.3 V225.6 H489.9" fill="none" stroke="#7a7a7a" stroke-width="1.6"/>
<path d="M250.4,23.27 H252.9 M250.4,33.3 H252.9 M250.4,43.33 H252.9 M250.4,53.36 H252.9 M250.4,63.39 H252.9 M250.4,73.42 H252.9 M250.4,83.45 H252.9 M250.4,93.48 H252.9 M250.4,103.51 H252.9 M250.4,113.54 H252.9 M250.4,123.57 H252.9 M250.4,133.6 H252.9 M250.4,143.63 H252.9 M250.4,153.66 H252.9 M250.4,163.69 H252.9 M250.4,173.72 H252.9 M250.4,183.75 H252.9 M250.4,193.78 H252.9 M250.4,203.81 H252.9 M250.4,213.84 H252.9 M250.4,223.87 H252.9 M248.6,33.3 H252.9 M248.6,63.4 H252.9 M248.6,93.5 H252.9 M248.6,123.6 H252.9 M248.6,153.7 H252.9 M248.6,183.8 H252.9 M248.6,213.9 H252.9 " stroke="#7a7a7a" stroke-width="0.9" fill="none"/>
<text x="247.2" y="35.32" font-family='"Liberation Sans", sans-serif' font-size="5.6" font-weight="normal" text-anchor="end" fill="#3a3a3a" stroke="#3a3a3a" stroke-width="0.12">0</text>
<text x="247.2" y="65.42" font-family='"Liberation Sans", sans-serif' font-size="5.6" font-weight="normal" text-anchor="end" fill="#3a3a3a" stroke="#3a3a3a" stroke-width="0.12">−50</text>
<text x="247.2" y="95.52" font-family='"Liberation Sans", sans-serif' font-size="5.6" font-weight="normal" text-anchor="end" fill="#3a3a3a" stroke="#3a3a3a" stroke-width="0.12">−100</text>
<text x="247.2" y="125.62" font-family='"Liberation Sans", sans-serif' font-size="5.6" font-weight="normal" text-anchor="end" fill="#3a3a3a" stroke="#3a3a3a" stroke-width="0.12">−150</text>
<text x="247.2" y="155.72" font-family='"Liberation Sans", sans-serif' font-size="5.6" font-weight="normal" text-anchor="end" fill="#3a3a3a" stroke="#3a3a3a" stroke-width="0.12">−200</text>
<text x="247.2" y="185.82" font-family='"Liberation Sans", sans-serif' font-size="5.6" font-weight="normal" text-anchor="end" fill="#3a3a3a" stroke="#3a3a3a" stroke-width="0.12">−250</text>
<text x="247.2" y="215.92" font-family='"Liberation Sans", sans-serif' font-size="5.6" font-weight="normal" text-anchor="end" fill="#3a3a3a" stroke="#3a3a3a" stroke-width="0.12">−300</text>
<path d="M253.6,225.6 V227.9 M261.43,225.6 V227.9 M269.26,225.6 V227.9 M277.09,225.6 V227.9 M284.92,225.6 V227.9 M292.75,225.6 V227.9 M300.58,225.6 V227.9 M308.41,225.6 V227.9 M316.24,225.6 V227.9 M324.07,225.6 V227.9 M331.9,225.6 V227.9 M339.73,225.6 V227.9 M347.56,225.6 V227.9 M355.39,225.6 V227.9 M363.22,225.6 V227.9 M371.05,225.6 V227.9 M378.88,225.6 V227.9 M386.71,225.6 V227.9 M394.54,225.6 V227.9 M402.37,225.6 V227.9 M410.2,225.6 V227.9 M418.03,225.6 V227.9 M425.86,225.6 V227.9 M433.69,225.6 V227.9 M441.52,225.6 V227.9 M449.35,225.6 V227.9 M457.18,225.6 V227.9 M465.01,225.6 V227.9 M472.84,225.6 V227.9 M480.67,225.6 V227.9 M488.5,225.6 V227.9 M253.6,225.6 V228.6 M277.19,225.6 V228.6 M300.78,225.6 V228.6 M324.37,225.6 V228.6 M347.96,225.6 V228.6 M371.55,225.6 V228.6 M395.14,225.6 V228.6 M418.73,225.6 V228.6 M442.32,225.6 V228.6 M465.91,225.6 V228.6 M489.5,225.6 V228.6 " stroke="#7a7a7a" stroke-width="0.9" fill="none"/>
<text x="253.6" y="236.5" font-family='"Liberation Sans", sans-serif' font-size="5.9" font-weight="normal" text-anchor="middle" fill="#3a3a3a" stroke="#3a3a3a" stroke-width="0.12">0</text>
<text x="277.19" y="236.5" font-family='"Liberation Sans", sans-serif' font-size="5.9" font-weight="normal" text-anchor="middle" fill="#3a3a3a" stroke="#3a3a3a" stroke-width="0.12">500</text>
<text x="300.78" y="236.5" font-family='"Liberation Sans", sans-serif' font-size="5.9" font-weight="normal" text-anchor="middle" fill="#3a3a3a" stroke="#3a3a3a" stroke-width="0.12">1000</text>
<text x="324.37" y="236.5" font-family='"Liberation Sans", sans-serif' font-size="5.9" font-weight="normal" text-anchor="middle" fill="#3a3a3a" stroke="#3a3a3a" stroke-width="0.12">1500</text>
<text x="347.96" y="236.5" font-family='"Liberation Sans", sans-serif' font-size="5.9" font-weight="normal" text-anchor="middle" fill="#3a3a3a" stroke="#3a3a3a" stroke-width="0.12">2000</text>
<text x="371.55" y="236.5" font-family='"Liberation Sans", sans-serif' font-size="5.9" font-weight="normal" text-anchor="middle" fill="#3a3a3a" stroke="#3a3a3a" stroke-width="0.12">2500</text>
<text x="395.14" y="236.5" font-family='"Liberation Sans", sans-serif' font-size="5.9" font-weight="normal" text-anchor="middle" fill="#3a3a3a" stroke="#3a3a3a" stroke-width="0.12">3000</text>
<text x="418.73" y="236.5" font-family='"Liberation Sans", sans-serif' font-size="5.9" font-weight="normal" text-anchor="middle" fill="#3a3a3a" stroke="#3a3a3a" stroke-width="0.12">3500</text>
<text x="442.32" y="236.5" font-family='"Liberation Sans", sans-serif' font-size="5.9" font-weight="normal" text-anchor="middle" fill="#3a3a3a" stroke="#3a3a3a" stroke-width="0.12">4000</text>
<text x="465.91" y="236.5" font-family='"Liberation Sans", sans-serif' font-size="5.9" font-weight="normal" text-anchor="middle" fill="#3a3a3a" stroke="#3a3a3a" stroke-width="0.12">4500</text>
<text x="489.5" y="236.5" font-family='"Liberation Sans", sans-serif' font-size="5.9" font-weight="normal" text-anchor="middle" fill="#3a3a3a" stroke="#3a3a3a" stroke-width="0.12">5000</text>
<text x="226.4" y="126.2" font-family='"Liberation Sans", sans-serif' font-size="12.2" font-weight="bold" text-anchor="middle" fill="#000" transform="rotate(-90 226.4 126.2)" dominant-baseline="central">Relative Response (%)</text>
<text x="370.8" y="250.2" font-family='"Liberation Sans", sans-serif' font-size="13" font-weight="bold" text-anchor="middle" fill="#000" >time (s)</text>
<text x="275" y="76.6" font-family='"Liberation Serif", serif' font-size="26.2" font-weight="normal" text-anchor="middle" fill="#000" >b)</text>
<text x="270.6" y="220.4" font-family='"Liberation Serif", serif' font-size="10.9" font-weight="bold" text-anchor="start" fill="#000" >CO; SnO<tspan font-size="7" dy="2">2</tspan><tspan dy="-2">:Pd <tspan font-weight="normal">@</tspan> 50 </tspan><tspan font-size="9.5" dy="1.8">°</tspan><tspan dy="-1.8">C</tspan></text>
<defs>
<linearGradient id="cb1" x1="0" y1="0" x2="0" y2="1">
<stop offset="0" stop-color="#1a3cf0"/><stop offset="0.207" stop-color="#00f8ff"/><stop offset="0.394" stop-color="#00f060"/><stop offset="0.55" stop-color="#808a40"/><stop offset="0.636" stop-color="#f08030"/><stop offset="0.808" stop-color="#f01010"/><stop offset="1" stop-color="#c00010"/></linearGradient>
<linearGradient id="cb2" x1="0" y1="0" x2="0" y2="1">
<stop offset="0" stop-color="#c00010"/><stop offset="0.19" stop-color="#f01010"/><stop offset="0.345" stop-color="#f08030"/><stop offset="0.505" stop-color="#808a40"/><stop offset="0.6" stop-color="#00f060"/><stop offset="0.82" stop-color="#00f8ff"/><stop offset="1" stop-color="#1a3cf0"/></linearGradient>
</defs>
<rect x="519.2" y="17.2" width="22.9" height="197.8" fill="url(#cb1)" stroke="#4a5ae8" stroke-width="0.8"/>
<rect x="519.2" y="269.2" width="22.9" height="214" fill="url(#cb2)" stroke="#4a5ae8" stroke-width="0.8"/>
<text x="527.5" y="12.2" font-family='"Liberation Sans", sans-serif' font-size="9" font-weight="bold" text-anchor="middle" fill="#111" letter-spacing="0.35">136 ppm</text>
<text x="508.3" y="229.2" font-family='"Liberation Sans", sans-serif' font-size="9" font-weight="bold" text-anchor="start" fill="#111" letter-spacing="0.35">1360 ppm</text>
<text x="527.8" y="263.2" font-family='"Liberation Sans", sans-serif' font-size="9" font-weight="bold" text-anchor="middle" fill="#111" letter-spacing="0.35">800 ppm</text>
<text x="529.8" y="497.2" font-family='"Liberation Sans", sans-serif' font-size="9" font-weight="bold" text-anchor="middle" fill="#111" letter-spacing="0.2">40 ppm</text>
<path d="M40,473 C43.33,472.73 46.67,472.2 50,472.2 C53.33,472.2 56.67,472.8 60,472.8 C63.33,472.8 66.67,472.2 70,472.2 C73.33,472.2 76.67,473 80,473 C83.33,473 86.67,472.4 90,472.4 C93.47,472.4 96.93,472.8 100.4,472.8 C100.93,472.8 101.47,471.61 102,471 C102.73,470.16 103.47,468.7 104.2,468.4 C104.87,468.13 105.53,467.9 106.2,467.9 C106.8,467.9 107.4,469.35 108,470 C108.67,470.72 109.33,472 110,472 C111.67,472 113.33,471.5 115,471.5 C116.67,471.5 118.33,472.5 120,472.5 C123.33,472.5 126.67,472 130,472 C133.33,472 136.67,472.4 140,472.4 C145.17,472.4 150.33,471.6 155.5,471.6 C160.33,471.6 165.17,472 170,472 C172.9,472 175.8,470.4 178.7,470.4 C179.8,470.4 180.9,470.7 182,471 C183.47,471.39 184.93,473.5 186.4,473.5 C190.93,473.5 195.47,472.5 200,472.5 C208,472.5 216,472.5 224,472.5" fill="none" stroke="#5a5ae6" stroke-width="1.1" stroke-linejoin="round" stroke-linecap="round"/>
<path d="M40,472.12 C40.5,472.2 41,472.34 41.5,472.35 C42,472.37 42.5,472.37 43,472.38 C43.5,472.39 44,472.4 44.5,472.43 C45,472.46 45.5,472.58 46,472.7 C46.5,472.81 47,473.01 47.5,473.18 C48,473.34 48.5,473.56 49,473.67 C49.5,473.78 50,473.92 50.5,473.92 C51,473.92 51.5,473.85 52,473.79 C52.5,473.72 53,473.53 53.5,473.4 C54,473.27 54.5,473.08 55,473.01 C55.5,472.94 56,472.87 56.5,472.87 C57,472.87 57.5,472.95 58,473.01 C58.5,473.06 59,473.2 59.5,473.25 C60,473.3 60.5,473.36 61,473.36 C61.5,473.36 62,473.28 62.5,473.22 C63,473.15 63.5,473 64,472.93 C64.5,472.85 65,472.73 65.5,472.73 C66,472.73 66.5,472.78 67,472.83 C67.5,472.88 68,473.08 68.5,473.22 C69,473.36 69.5,473.56 70,473.67 C70.5,473.77 71,473.91 71.5,473.91 C72,473.91 72.5,473.85 73,473.79 C73.5,473.73 74,473.54 74.5,473.41 C75,473.28 75.5,473.1 76,473.01 C76.5,472.92 77,472.8 77.5,472.8 C78,472.79 78.5,472.79 79,472.79 C79.5,472.79 80,472.8 80.5,472.8 C81,472.8 81.5,472.7 82,472.61 C82.5,472.51 83,472.3 83.5,472.11 C84,471.91 84.5,471.64 85,471.44 C85.5,471.23 86,470.98 86.5,470.88 C87,470.78 87.5,470.66 88,470.66 C88.5,470.66 89,470.74 89.5,470.8 C90,470.86 90.5,471.01 91,471.09 C91.5,471.17 92,471.28 92.5,471.28 C93,471.28 93.5,471.26 94,471.24 C94.5,471.22 95,471.11 95.5,471.07 C96,471.04 96.5,471 97,471 C97.5,471 98,471.11 98.5,471.21 C99,471.3 99.5,471.67 100,471.67 C100.83,471.67 101.67,456.91 102.5,450 C103,445.85 103.5,440.64 104,438 C104.73,434.12 105.47,432.11 106.2,429.6 C107.13,426.41 108.07,423.1 109,421 C110,418.75 111,416.65 112,415.7 C113.93,413.87 115.87,413.26 117.8,412.2 C120.13,410.92 122.47,409.73 124.8,408.7 C126.73,407.85 128.67,406.4 130.6,406.4 C131.77,406.4 132.93,407.4 134.1,408.7 C134.57,409.22 135.03,410.71 135.5,412 C136,413.38 136.5,415.33 137,417 C137.57,418.89 138.13,420.99 138.7,422.7 C139.13,424.01 139.57,425.18 140,426.3 C141.53,430.26 143.07,433.52 144.6,437.1 C146.17,440.76 147.73,445.09 149.3,448 C151.03,451.22 152.77,453.52 154.5,456 C155.87,457.95 157.23,460.17 158.6,461.5 C160.13,463 161.67,463.57 163.2,465 C164.5,466.21 165.8,468.37 167.1,469.6 C168.4,470.83 169.7,472.28 171,472.7 C172.33,473.13 173.67,473.5 175,473.5 C180,473.5 185,473.11 190,473 C201.33,472.76 212.67,472.67 224,472.5" fill="none" stroke="#68bce8" stroke-width="1.1" stroke-linejoin="round" stroke-linecap="round"/>
<path d="M40,472.25 C40.5,472.06 41,471.85 41.5,471.7 C42,471.55 42.5,471.4 43,471.32 C43.5,471.24 44,471.17 44.5,471.14 C45,471.1 45.5,471.08 46,471.06 C46.5,471.03 47,471.01 47.5,470.98 C48,470.95 48.5,470.89 49,470.86 C49.5,470.83 50,470.78 50.5,470.78 C51,470.78 51.5,470.82 52,470.85 C52.5,470.89 53,471.03 53.5,471.14 C54,471.26 54.5,471.44 55,471.6 C55.5,471.75 56,471.94 56.5,472.06 C57,472.19 57.5,472.33 58,472.38 C58.5,472.43 59,472.49 59.5,472.49 C60,472.49 60.5,472.45 61,472.43 C61.5,472.41 62,472.35 62.5,472.34 C63,472.33 63.5,472.31 64,472.31 C64.5,472.31 65,472.34 65.5,472.34 C66,472.34 66.5,472.33 67,472.33 C67.5,472.32 68,472.25 68.5,472.19 C69,472.12 69.5,472.01 70,471.91 C70.5,471.81 71,471.68 71.5,471.61 C72,471.54 72.5,471.45 73,471.45 C73.5,471.45 74,471.48 74.5,471.53 C75,471.57 75.5,471.72 76,471.84 C76.5,471.95 77,472.12 77.5,472.25 C78,472.38 78.5,472.52 79,472.62 C79.5,472.72 80,472.81 80.5,472.89 C81,472.97 81.5,473.03 82,473.1 C82.5,473.18 83,473.36 83.5,473.36 C85.3,473.36 87.1,470.9 88.9,470.9 C90.93,470.9 92.97,472 95,472 C96.93,472 98.87,472 100.8,472 C101.27,472 101.73,455.57 102.2,445 C102.5,438.21 102.8,426.37 103.1,421 C103.73,409.66 104.37,402.4 105,397 C105.73,390.74 106.47,385.94 107.2,383 C108.13,379.26 109.07,376.71 110,375 C111.33,372.56 112.67,371.09 114,369.8 C115.67,368.19 117.33,366.68 119,366 C120.93,365.21 122.87,364.4 124.8,364.4 C126.53,364.4 128.27,364.75 130,365.2 C131,365.46 132,365.99 133,367 C133.9,367.91 134.8,371.76 135.7,375 C137.03,379.79 138.37,388.57 139.7,394 C141.5,401.33 143.3,407.37 145.1,413 C147.37,420.09 149.63,426.65 151.9,432 C154.6,438.37 157.3,444.09 160,448.4 C162.73,452.76 165.47,456.07 168.2,459.2 C170.9,462.29 173.6,465.44 176.3,467.4 C179,469.36 181.7,470.44 184.4,472 C186.1,472.98 187.8,474.69 189.5,475 C192.1,475.48 194.7,475.8 197.3,475.8 C198.33,475.8 199.37,474.68 200.4,474.3 C201.93,473.74 203.47,473.09 205,473 C211.33,472.63 217.67,472.67 224,472.5" fill="none" stroke="#44e6ee" stroke-width="1.1" stroke-linejoin="round" stroke-linecap="round"/>
<path d="M40,471.51 C40.5,471.43 41,471.32 41.5,471.26 C42,471.2 42.5,471.12 43,471.12 C43.5,471.12 44,471.14 44.5,471.16 C45,471.17 45.5,471.26 46,471.28 C46.5,471.31 47,471.34 47.5,471.34 C48,471.34 48.5,471.27 49,471.21 C49.5,471.15 50,471.01 50.5,470.92 C51,470.82 51.5,470.68 52,470.64 C52.5,470.6 53,470.56 53.5,470.56 C54,470.56 54.5,470.67 55,470.77 C55.5,470.86 56,471.03 56.5,471.17 C57,471.31 57.5,471.47 58,471.59 C58.5,471.7 59,471.81 59.5,471.88 C60,471.95 60.5,471.99 61,472.04 C61.5,472.09 62,472.13 62.5,472.2 C63,472.27 63.5,472.38 64,472.5 C64.5,472.63 65,472.82 65.5,472.99 C66,473.17 66.5,473.39 67,473.56 C67.5,473.72 68,473.91 68.5,473.99 C69,474.07 69.5,474.16 70,474.16 C70.5,474.16 71,474.1 71.5,474.06 C72,474.01 72.5,473.91 73,473.86 C73.5,473.81 74,473.73 74.5,473.73 C75,473.73 75.5,473.75 76,473.77 C76.5,473.78 77,473.86 77.5,473.88 C78,473.89 78.5,473.91 79,473.91 C79.5,473.91 80,473.82 80.5,473.75 C81,473.68 81.5,473.54 82,473.44 C82.5,473.34 83,473.19 83.5,473.14 C84,473.08 84.5,473.02 85,473.02 C85.5,473.02 86,473.09 86.5,473.14 C87,473.2 87.5,473.32 88,473.4 C88.5,473.47 89,473.59 89.5,473.59 C90,473.59 90.5,473.58 91,473.57 C91.5,473.56 92,473.44 92.5,473.35 C93,473.27 93.5,473.15 94,473.07 C94.5,472.99 95,472.9 95.5,472.88 C96,472.85 96.5,472.83 97,472.83 C97.5,472.83 98,472.83 98.5,472.83 C99.5,472.82 100.5,454.62 101.5,440 C102,432.69 102.5,417.78 103,410 C103.67,399.63 104.33,393.08 105,385 C105.67,376.92 106.33,362.8 107,361.5 C108,359.55 109,359.06 110,358.5 C111.13,357.87 112.27,357.46 113.4,357.2 C115.53,356.71 117.67,356.74 119.8,356.2 C121.57,355.75 123.33,353.96 125.1,353 C126.87,352.04 128.63,350.4 130.4,350.4 C131.43,350.4 132.47,350.59 133.5,350.9 C134.07,351.07 134.63,351.76 135.2,352.6 C135.8,353.49 136.4,355.43 137,357.8 C137.57,360.04 138.13,365.04 138.7,368.3 C139.57,373.29 140.43,377.57 141.3,382.2 C142.17,386.83 143.03,391.63 143.9,396.1 C145.07,402.12 146.23,409.55 147.4,413.5 C148.03,415.64 148.67,416.81 149.3,418.6 C150.83,422.92 152.37,428.5 153.9,432.5 C155.47,436.59 157.03,440.16 158.6,443.3 C160.67,447.44 162.73,451.38 164.8,454.2 C166.87,457.02 168.93,459.45 171,461.1 C173.57,463.14 176.13,464.55 178.7,465.8 C181.27,467.05 183.83,468.9 186.4,468.9 C189,468.9 191.6,468.9 194.2,468.9 C196.77,468.9 199.33,470.81 201.9,471.2 C204.5,471.6 207.1,472 209.7,472 C214.47,472 219.23,472 224,472" fill="none" stroke="#44d844" stroke-width="1.1" stroke-linejoin="round" stroke-linecap="round"/>
<path d="M40,471.5 C40.5,471.5 41,471.48 41.5,471.48 C42,471.48 42.5,471.53 43,471.58 C43.5,471.63 44,471.75 44.5,471.85 C45,471.94 45.5,472.08 46,472.16 C46.5,472.23 47,472.34 47.5,472.34 C48,472.34 48.5,472.33 49,472.31 C49.5,472.29 50,472.18 50.5,472.12 C51,472.06 51.5,471.96 52,471.96 C52.5,471.96 53,471.97 53.5,471.99 C54,472.01 54.5,472.15 55,472.26 C55.5,472.36 56,472.53 56.5,472.65 C57,472.77 57.5,472.91 58,472.99 C58.5,473.07 59,473.15 59.5,473.18 C60,473.21 60.5,473.21 61,473.24 C61.5,473.26 62,473.28 62.5,473.32 C63,473.35 63.5,473.45 64,473.55 C64.5,473.65 65,473.81 65.5,473.94 C66,474.08 66.5,474.25 67,474.36 C67.5,474.46 68,474.6 68.5,474.6 C69,474.6 69.5,474.59 70,474.57 C70.5,474.55 71,474.43 71.5,474.29 C73.5,473.76 75.5,469 77.5,469 C79.33,469 81.17,471.09 83,471.5 C85.33,472.02 87.67,472.5 90,472.5 C93.33,472.5 96.67,472.44 100,472 C100.5,471.93 101,450.34 101.5,440 C102.17,426.22 102.83,412.99 103.5,400 C104.17,387.01 104.83,370.66 105.5,362 C106.07,354.64 106.63,348.55 107.2,345 C107.87,340.82 108.53,337.1 109.2,336 C109.9,334.85 110.6,334.26 111.3,333.9 C112.63,333.21 113.97,332.9 115.3,332.6 C116.67,332.29 118.03,332.2 119.4,331.9 C120.77,331.6 122.13,331.05 123.5,330.6 C124.83,330.16 126.17,329.54 127.5,329.2 C128.63,328.91 129.77,328.5 130.9,328.5 C131.8,328.5 132.7,328.75 133.6,329.2 C134.07,329.43 134.53,330.48 135,331.9 C135.4,333.12 135.8,336.94 136.2,340 C136.73,344.07 137.27,350.64 137.8,354.3 C138.67,360.24 139.53,363.81 140.4,368.3 C141.57,374.34 142.73,379.92 143.9,385.7 C145.07,391.48 146.23,398.48 147.4,403 C149.07,409.46 150.73,413.21 152.4,418.6 C153.93,423.55 155.47,430.11 157,434 C159.07,439.24 161.13,442.98 163.2,446.4 C165.8,450.71 168.4,454.46 171,457.3 C173.57,460.1 176.13,462.77 178.7,464.2 C181.27,465.63 183.83,466.88 186.4,467.3 C189,467.73 191.6,467.67 194.2,468.1 C196.77,468.52 199.33,471.2 201.9,471.2 C204.5,471.2 207.1,471.2 209.7,471.2 C211.23,471.2 212.77,470.4 214.3,470.4 C215.87,470.4 217.43,472.7 219,472.7 C220.67,472.7 222.33,472.57 224,472.5" fill="none" stroke="#f2b048" stroke-width="1.1" stroke-linejoin="round" stroke-linecap="round"/>
<path d="M40,472.98 C40.5,472.96 41,472.92 41.5,472.92 C42,472.92 42.5,472.95 43,472.98 C43.5,473.02 44,473.14 44.5,473.23 C45,473.32 45.5,473.46 46,473.53 C46.5,473.6 47,473.7 47.5,473.7 C48,473.7 48.5,473.65 49,473.6 C49.5,473.55 50,473.39 50.5,473.27 C51,473.16 51.5,473 52,472.92 C52.5,472.84 53,472.73 53.5,472.73 C54,472.73 54.5,472.77 55,472.8 C55.5,472.84 56,472.95 56.5,473.01 C57,473.07 57.5,473.16 58,473.16 C58.5,473.16 59,473.14 59.5,473.12 C60,473.09 60.5,472.97 61,472.91 C61.5,472.84 62,472.71 62.5,472.7 C63,472.68 63.5,472.67 64,472.67 C64.5,472.67 65,472.79 65.5,472.87 C66,472.94 66.5,473.08 67,473.15 C67.5,473.21 68,473.3 68.5,473.3 C69,473.3 69.5,473.24 70,473.18 C70.5,473.12 71,472.95 71.5,472.82 C72,472.69 72.5,472.52 73,472.4 C73.5,472.29 74,472.17 74.5,472.13 C75,472.09 75.5,472.05 76,472.05 C76.5,472.05 77,472.08 77.5,472.08 C78,472.08 78.5,472.05 79,472.02 C79.5,471.98 80,471.86 80.5,471.75 C81,471.64 81.5,471.46 82,471.33 C82.5,471.2 83,471.02 83.5,470.96 C84,470.9 84.5,470.84 85,470.84 C85.5,470.84 86,470.93 86.5,471.01 C87,471.08 87.5,471.24 88,471.34 C88.5,471.44 89,471.58 89.5,471.63 C90,471.67 90.5,471.72 91,471.72 C91.5,471.72 92,471.66 92.5,471.64 C93,471.61 93.5,471.57 94,471.57 C94.5,471.57 95,471.61 95.5,471.66 C96,471.71 96.5,471.85 97,471.97 C97.5,472.08 98,472.34 98.5,472.34 C99.27,472.34 100.03,457.88 100.8,440 C101.2,430.67 101.6,391.54 102,380 C102.6,362.69 103.2,353.48 103.8,345 C104.27,338.41 104.73,332.06 105.2,329.2 C105.87,325.11 106.53,322.42 107.2,321.1 C108.1,319.32 109,317.7 109.9,317.7 C110.8,317.7 111.7,317.7 112.6,317.7 C113.5,317.7 114.4,318.12 115.3,318.4 C116.43,318.75 117.57,319.7 118.7,319.7 C119.83,319.7 120.97,319.22 122.1,319 C123.23,318.78 124.37,318.7 125.5,318.4 C126.4,318.16 127.3,317.57 128.2,317 C128.87,316.58 129.53,315.4 130.2,315.4 C131.33,315.4 132.47,315.48 133.6,315.7 C134.07,315.79 134.53,316.93 135,318.4 C135.43,319.77 135.87,326.54 136.3,329.2 C137.1,334.12 137.9,336.2 138.7,340.4 C139.57,344.95 140.43,351.18 141.3,356.1 C142.17,361.02 143.03,365.53 143.9,370 C145.07,376.02 146.23,381.6 147.4,387.4 C148.57,393.2 149.73,399.23 150.9,404.8 C151.9,409.57 152.9,414.72 153.9,418.6 C155.47,424.67 157.03,429.78 158.6,434 C160.67,439.57 162.73,444.27 164.8,448 C166.87,451.73 168.93,454.8 171,457.3 C173.57,460.4 176.13,463.08 178.7,465 C181.27,466.92 183.83,467.98 186.4,469.6 C187.97,470.59 189.53,472.7 191.1,472.7 C193.67,472.7 196.23,472.7 198.8,472.7 C201.4,472.7 204,472.37 206.6,472 C207.9,471.82 209.2,471.46 210.5,471 C211.77,470.56 213.03,468.9 214.3,468.9 C215.2,468.9 216.1,469.8 217,470.5 C217.67,471.02 218.33,472.7 219,472.7 C220.67,472.7 222.33,472.57 224,472.5" fill="none" stroke="#ee4450" stroke-width="1.1" stroke-linejoin="round" stroke-linecap="round"/>
<path d="M40,472.31 C40.5,472.47 41,472.62 41.5,472.8 C42,472.99 42.5,473.25 43,473.44 C43.5,473.63 44,473.87 44.5,473.96 C45,474.06 45.5,474.15 46,474.15 C46.5,474.15 47,474.06 47.5,473.99 C48,473.91 48.5,473.75 49,473.66 C49.5,473.57 50,473.43 50.5,473.43 C51,473.42 51.5,473.42 52,473.42 C52.5,473.42 53,473.52 53.5,473.55 C54,473.58 54.5,473.62 55,473.62 C55.5,473.62 56,473.52 56.5,473.44 C57,473.36 57.5,473.18 58,473.04 C58.5,472.9 59,472.71 59.5,472.62 C60,472.54 60.5,472.43 61,472.43 C61.5,472.43 62,472.52 62.5,472.59 C63,472.66 63.5,472.85 64,472.97 C64.5,473.09 65,473.26 65.5,473.31 C66,473.36 66.5,473.4 67,473.4 C67.5,473.4 68,473.3 68.5,473.23 C69,473.15 69.5,473.01 70,472.94 C70.5,472.88 71,472.78 71.5,472.78 C72,472.78 72.5,472.81 73,472.83 C73.5,472.86 74,472.98 74.5,472.98 C75,472.99 75.5,472.99 76,472.99 C76.5,472.99 77,472.82 77.5,472.68 C78,472.55 78.5,472.3 79,472.08 C79.5,471.87 80,471.6 80.5,471.41 C81,471.23 81.5,471.01 82,470.94 C82.5,470.87 83,470.8 83.5,470.8 C84,470.8 84.5,470.86 85,470.89 C85.5,470.93 86,471 86.5,471 C87,471 87.5,470.98 88,470.95 C88.5,470.92 89,470.8 89.5,470.74 C90,470.68 90.5,470.57 91,470.57 C91.5,470.57 92,470.6 92.5,470.65 C93,470.69 93.5,470.9 94,471.06 C94.5,471.23 95,471.48 95.5,471.66 C96,471.85 96.5,472.08 97,472.18 C97.5,472.28 98,472.4 98.5,472.4 C99.2,472.4 99.9,463.77 100.6,450 C100.9,444.1 101.2,416.58 101.5,400 C101.83,381.57 102.17,353.79 102.5,345 C102.8,337.09 103.1,334.03 103.4,329.2 C103.77,323.29 104.13,317.4 104.5,312.9 C104.93,307.58 105.37,301.93 105.8,299.4 C106.5,295.32 107.2,293.19 107.9,291.3 C108.8,288.87 109.7,286.78 110.6,285.8 C111.5,284.82 112.4,283.8 113.3,283.8 C114.43,283.8 115.57,283.8 116.7,283.8 C117.6,283.8 118.5,284.27 119.4,284.5 C120.3,284.73 121.2,285.2 122.1,285.2 C122.77,285.2 123.43,285.2 124.1,285.2 C125,285.2 125.9,286.44 126.8,287.2 C127.93,288.16 129.07,289.97 130.2,290.6 C131.33,291.23 132.47,291.23 133.6,291.9 C134.07,292.18 134.53,292.38 135,293.3 C135.23,293.76 135.47,297.21 135.7,299.4 C136.13,303.47 136.57,308.55 137,312.9 C137.47,317.59 137.93,322.07 138.4,326.5 C139.07,332.83 139.73,341.04 140.4,345 C141.27,350.15 142.13,352.06 143,356.1 C143.9,360.3 144.8,365.38 145.7,370 C146.83,375.82 147.97,381.68 149.1,387.4 C150.27,393.28 151.43,399.13 152.6,404.8 C153.57,409.5 154.53,414.75 155.5,418.6 C157.03,424.71 158.57,429.82 160.1,434 C162.17,439.63 164.23,443.94 166.3,448 C168.37,452.06 170.43,456.17 172.5,458.8 C175.1,462.11 177.7,464.54 180.3,466.5 C182.87,468.44 185.43,470.44 188,471.2 C190.57,471.96 193.13,472.7 195.7,472.7 C198.8,472.7 201.9,472.5 205,472.5 C208.33,472.5 211.67,472.5 215,472.5 C218,472.5 221,472.17 224,472" fill="none" stroke="#d05060" stroke-width="1.1" stroke-linejoin="round" stroke-linecap="round"/>
<path d="M39.5,262 H224.4 V486.1" fill="none" stroke="#9a9a9a" stroke-width="1.2"/>
<path d="M39.5,262 V486.1 H224.4" fill="none" stroke="#7a7a7a" stroke-width="1.6"/>
<path d="M37,270.05 H39.5 M37,283.52 H39.5 M37,296.99 H39.5 M37,310.46 H39.5 M37,323.93 H39.5 M37,337.4 H39.5 M37,350.87 H39.5 M37,364.34 H39.5 M37,377.81 H39.5 M37,391.28 H39.5 M37,404.75 H39.5 M37,418.22 H39.5 M37,431.69 H39.5 M37,445.16 H39.5 M37,458.63 H39.5 M37,472.1 H39.5 M37,485.57 H39.5 M35.2,472.1 H39.5 M35.2,431.7 H39.5 M35.2,391.3 H39.5 M35.2,350.9 H39.5 M35.2,310.5 H39.5 M35.2,270.1 H39.5 " stroke="#7a7a7a" stroke-width="0.9" fill="none"/>
<text x="32.6" y="474.04" font-family='"Liberation Sans", sans-serif' font-size="5.4" font-weight="normal" text-anchor="end" fill="#3a3a3a" stroke="#3a3a3a" stroke-width="0.12">0</text>
<text x="32.6" y="433.64" font-family='"Liberation Sans", sans-serif' font-size="5.4" font-weight="normal" text-anchor="end" fill="#3a3a3a" stroke="#3a3a3a" stroke-width="0.12">25</text>
<text x="32.6" y="393.24" font-family='"Liberation Sans", sans-serif' font-size="5.4" font-weight="normal" text-anchor="end" fill="#3a3a3a" stroke="#3a3a3a" stroke-width="0.12">50</text>
<text x="32.6" y="352.84" font-family='"Liberation Sans", sans-serif' font-size="5.4" font-weight="normal" text-anchor="end" fill="#3a3a3a" stroke="#3a3a3a" stroke-width="0.12">75</text>
<text x="32.6" y="312.44" font-family='"Liberation Sans", sans-serif' font-size="5.4" font-weight="normal" text-anchor="end" fill="#3a3a3a" stroke="#3a3a3a" stroke-width="0.12">100</text>
<text x="32.6" y="272.04" font-family='"Liberation Sans", sans-serif' font-size="5.4" font-weight="normal" text-anchor="end" fill="#3a3a3a" stroke="#3a3a3a" stroke-width="0.12">125</text>
<path d="M41.14,486.1 V488.4 M51.87,486.1 V488.4 M62.6,486.1 V488.4 M73.33,486.1 V488.4 M84.06,486.1 V488.4 M94.79,486.1 V488.4 M105.52,486.1 V488.4 M116.25,486.1 V488.4 M126.98,486.1 V488.4 M137.71,486.1 V488.4 M148.44,486.1 V488.4 M159.17,486.1 V488.4 M169.9,486.1 V488.4 M180.63,486.1 V488.4 M191.36,486.1 V488.4 M202.09,486.1 V488.4 M212.82,486.1 V488.4 M223.55,486.1 V488.4 M62.6,486.1 V489.1 M94.8,486.1 V489.1 M127,486.1 V489.1 M159.2,486.1 V489.1 M191.4,486.1 V489.1 M223.6,486.1 V489.1 " stroke="#7a7a7a" stroke-width="0.9" fill="none"/>
<text x="62.6" y="497.6" font-family='"Liberation Sans", sans-serif' font-size="6" font-weight="normal" text-anchor="middle" fill="#3a3a3a" stroke="#3a3a3a" stroke-width="0.12">0</text>
<text x="94.8" y="497.6" font-family='"Liberation Sans", sans-serif' font-size="6" font-weight="normal" text-anchor="middle" fill="#3a3a3a" stroke="#3a3a3a" stroke-width="0.12">100</text>
<text x="127" y="497.6" font-family='"Liberation Sans", sans-serif' font-size="6" font-weight="normal" text-anchor="middle" fill="#3a3a3a" stroke="#3a3a3a" stroke-width="0.12">200</text>
<text x="159.2" y="497.6" font-family='"Liberation Sans", sans-serif' font-size="6" font-weight="normal" text-anchor="middle" fill="#3a3a3a" stroke="#3a3a3a" stroke-width="0.12">300</text>
<text x="191.4" y="497.6" font-family='"Liberation Sans", sans-serif' font-size="6" font-weight="normal" text-anchor="middle" fill="#3a3a3a" stroke="#3a3a3a" stroke-width="0.12">400</text>
<text x="223.6" y="497.6" font-family='"Liberation Sans", sans-serif' font-size="6" font-weight="normal" text-anchor="middle" fill="#3a3a3a" stroke="#3a3a3a" stroke-width="0.12">500</text>
<text x="13.9" y="376.2" font-family='"Liberation Sans", sans-serif' font-size="13.1" font-weight="bold" text-anchor="middle" fill="#000" transform="rotate(-90 13.9 376.2)" dominant-baseline="central">Relative Response (%)</text>
<text x="131.2" y="511.8" font-family='"Liberation Sans", sans-serif' font-size="13.2" font-weight="bold" text-anchor="middle" fill="#000" >time (s)</text>
<text x="72.2" y="303.8" font-family='"Liberation Serif", serif' font-size="25.6" font-weight="normal" text-anchor="middle" fill="#000" >c)</text>
<text x="218" y="360.8" font-family='"Liberation Serif", serif' font-size="10.85" font-weight="bold" text-anchor="middle" fill="#000"  transform="rotate(90 218 360.8)" dominant-baseline="central">CO<tspan font-size="7" dy="2">2</tspan><tspan dy="-2">; SnO</tspan><tspan font-size="7" dy="2">2</tspan><tspan dy="-2">:Pd <tspan font-weight="normal">@</tspan> 50 </tspan><tspan font-size="9.5" dy="1.8">°</tspan><tspan dy="-1.8">C</tspan></text>
<defs><linearGradient id="gd" gradientUnits="userSpaceOnUse" x1="259" y1="0" x2="491" y2="0"><stop offset="0.0000" stop-color="#1030e8"/><stop offset="0.1237" stop-color="#1030e8"/><stop offset="0.1237" stop-color="#2070f0"/><stop offset="0.1685" stop-color="#2070f0"/><stop offset="0.1685" stop-color="#10a8f0"/><stop offset="0.2164" stop-color="#10a8f0"/><stop offset="0.2164" stop-color="#10d0f0"/><stop offset="0.2664" stop-color="#10d0f0"/><stop offset="0.2664" stop-color="#10e8d8"/><stop offset="0.3155" stop-color="#10e8d8"/><stop offset="0.3155" stop-color="#20f0c0"/><stop offset="0.3634" stop-color="#20f0c0"/><stop offset="0.3634" stop-color="#10f090"/><stop offset="0.4125" stop-color="#10f090"/><stop offset="0.4125" stop-color="#00f030"/><stop offset="0.4616" stop-color="#00f030"/><stop offset="0.4616" stop-color="#00f020"/><stop offset="0.5103" stop-color="#00f020"/><stop offset="0.5103" stop-color="#20f010"/><stop offset="0.5591" stop-color="#20f010"/><stop offset="0.5591" stop-color="#80f010"/><stop offset="0.6073" stop-color="#80f010"/><stop offset="0.6073" stop-color="#f4f000"/><stop offset="0.6573" stop-color="#f4f000"/><stop offset="0.6573" stop-color="#f8c000"/><stop offset="0.7056" stop-color="#f8c000"/><stop offset="0.7056" stop-color="#f8a000"/><stop offset="0.7547" stop-color="#f8a000"/><stop offset="0.7547" stop-color="#f87010"/><stop offset="0.8030" stop-color="#f87010"/><stop offset="0.8030" stop-color="#f80010"/><stop offset="0.8526" stop-color="#f80010"/><stop offset="0.8526" stop-color="#f00010"/><stop offset="0.9013" stop-color="#f00010"/><stop offset="0.9013" stop-color="#e00010"/><stop offset="0.9496" stop-color="#e00010"/><stop offset="0.9496" stop-color="#c80010"/><stop offset="1.0000" stop-color="#c80010"/></linearGradient></defs>
<path d="M259,467 L259.2,468.5 L260.2,468.8 L262,464.4 L263.7,466.2 L265.4,468.8 L266.3,458.3 L268,457.5 L268.9,460 L269.8,467 L270.7,470.5 L272.4,467 L274.2,463.5 L275.9,459.2 L277.6,450.5 L279.4,455.7 L282,456.6 L284.6,457.5 L286.3,460 L287.2,469.6 L289,449.6 L289.8,457.5 L292.4,459.2 L295,460 L297.7,462.7 L298.5,468.8 L297.8,467.8 L298.4,466 L299.15,434.2 L299.95,409.27 L300.6,401.4 L300.9,408.19 L301.2,415.52 L301.5,422.42 L301.8,428.69 L302.1,434.27 L302.4,439.17 L302.7,443.43 L303,447.12 L303.3,450.28 L303.6,452.98 L303.9,455.27 L304.2,457.22 L304.5,458.86 L304.8,460.23 L305.1,461.39 L305.4,462.36 L305.7,463.17 L306,463.84 L306.3,464.4 L306.6,464.86 L306.9,465.25 L307.2,464.96 L307.5,464.74 L307.8,464.71 L308.1,464.89 L308.4,465.21 L308.9,467.8 L309.5,466 L310.25,431.4 L311.05,404.34 L311.7,395.8 L312,402.99 L312.3,410.77 L312.6,418.13 L312.9,424.84 L313.2,430.83 L313.5,436.11 L313.8,440.73 L314.1,444.74 L314.4,448.19 L314.7,451.16 L315,453.69 L315.3,455.84 L315.6,457.67 L315.9,459.21 L316.2,460.51 L316.5,461.61 L316.8,462.52 L317.1,463.29 L317.4,463.93 L317.7,464.46 L318,464.74 L318.3,464.71 L318.6,464.89 L318.9,465.21 L319.2,465.62 L319.5,465.99 L319.8,466.23 L320.1,466.3 L320.5,467.8 L321.1,466 L321.85,417.15 L322.65,379.26 L323.3,367.3 L323.6,376.23 L323.9,386.05 L324.2,395.47 L324.5,404.2 L324.8,412.15 L325.1,419.28 L325.4,425.64 L325.7,431.26 L326,436.2 L326.3,440.52 L326.6,444.29 L326.9,447.57 L327.2,450.4 L327.5,452.85 L327.8,454.96 L328.1,456.77 L328.4,458.32 L328.7,459.64 L329,460.78 L329.3,461.74 L329.6,462.56 L329.9,463.26 L330.2,463.85 L330.5,464.35 L330.8,464.78 L331.1,465.13 L331.4,465.44 L331.9,467.8 L332.5,466 L333.25,403 L334.05,354.36 L334.7,339 L335,349.3 L335.3,360.75 L335.6,371.87 L335.9,382.32 L336.2,391.96 L336.5,400.75 L336.8,408.7 L337.1,415.83 L337.4,422.2 L337.7,427.87 L338,432.89 L338.3,437.32 L338.6,441.22 L338.9,444.65 L339.2,447.65 L339.5,450.27 L339.8,452.56 L340.1,454.55 L340.4,456.27 L340.7,457.77 L341,459.07 L341.3,460.2 L341.6,461.17 L341.9,462 L342.2,462.73 L342.5,463.35 L343,467.8 L343.6,466 L344.35,401.5 L345.15,351.72 L345.8,336 L346.1,346.43 L346.4,358.03 L346.7,369.32 L347,379.94 L347.3,389.74 L347.6,398.7 L347.9,406.8 L348.2,414.09 L348.5,420.61 L348.8,426.42 L349.1,431.57 L349.4,436.12 L349.7,440.14 L350,443.67 L350.3,446.77 L350.6,449.48 L350.9,451.85 L351.2,453.92 L351.5,455.71 L351.8,457.28 L352.1,458.63 L352.4,459.81 L352.7,460.82 L353,461.7 L353.3,462.46 L353.6,463.11 L353.9,463.67 L354.4,467.8 L355,466 L355.75,388.95 L356.55,329.63 L357.2,310.9 L357.5,322.3 L357.8,335.07 L358.1,347.62 L358.4,359.53 L358.7,370.65 L359,380.91 L359.3,390.29 L359.6,398.82 L359.9,406.54 L360.2,413.5 L360.5,419.74 L360.8,425.32 L361.1,430.31 L361.4,434.74 L361.7,438.68 L362,442.17 L362.3,445.25 L362.6,447.98 L362.9,450.38 L363.2,452.5 L363.5,454.36 L363.8,455.99 L364.1,457.42 L364.4,458.67 L364.7,459.76 L365,460.72 L365.3,461.55 L365.8,467.8 L366.4,466 L367.15,388.95 L367.95,329.63 L368.6,310.9 L368.9,322.3 L369.2,335.07 L369.5,347.62 L369.8,359.53 L370.1,370.65 L370.4,380.91 L370.7,390.29 L371,398.82 L371.3,406.54 L371.6,413.5 L371.9,419.74 L372.2,425.32 L372.5,430.31 L372.8,434.74 L373.1,438.68 L373.4,442.17 L373.7,445.25 L374,447.98 L374.3,450.38 L374.6,452.5 L374.9,454.36 L375.2,455.99 L375.5,457.42 L375.8,458.67 L376.1,459.76 L376.4,460.72 L376.7,461.55 L377.1,467.8 L377.7,466 L378.45,393.35 L379.25,337.38 L379.9,319.7 L380.2,330.78 L380.5,343.16 L380.8,355.29 L381.1,366.77 L381.4,377.45 L381.7,387.26 L382,396.21 L382.3,404.32 L382.6,411.62 L382.9,418.18 L383.2,424.04 L383.5,429.27 L383.8,433.91 L384.1,438.03 L384.4,441.67 L384.7,444.88 L385,447.71 L385.3,450.2 L385.6,452.38 L385.9,454.3 L386.2,455.97 L386.5,457.44 L386.8,458.71 L387.1,459.83 L387.4,460.8 L387.7,461.64 L388,462.37 L388.4,467.8 L389,466 L389.75,390.5 L390.55,332.36 L391.2,314 L391.5,325.29 L391.8,337.92 L392.1,350.33 L392.4,362.09 L392.7,373.06 L393,383.16 L393.3,392.39 L393.6,400.77 L393.9,408.35 L394.2,415.16 L394.5,421.27 L394.8,426.73 L395.1,431.59 L395.4,435.92 L395.7,439.75 L396,443.14 L396.3,446.14 L396.6,448.78 L396.9,451.1 L397.2,453.15 L397.5,454.94 L397.8,456.51 L398.1,457.89 L398.4,459.09 L398.7,460.14 L399,461.05 L399.6,467.8 L400.2,466 L400.95,393.45 L401.75,337.55 L402.4,319.9 L402.7,330.97 L403,343.34 L403.3,355.46 L403.6,366.93 L403.9,377.6 L404.2,387.4 L404.5,396.34 L404.8,404.44 L405.1,411.74 L405.4,418.28 L405.7,424.14 L406,429.35 L406.3,433.99 L406.6,438.1 L406.9,441.73 L407.2,444.94 L407.5,447.76 L407.8,450.25 L408.1,452.43 L408.4,454.34 L408.7,456.01 L409,457.47 L409.3,458.74 L409.6,459.85 L409.9,460.82 L410.2,461.66 L410.5,462.39 L410.8,463.02 L411.2,467.8 L411.8,466 L412.55,385.1 L413.35,322.86 L414,303.2 L414.3,314.86 L414.6,327.96 L414.9,340.85 L415.2,353.13 L415.5,364.62 L415.8,375.25 L416.1,385.01 L416.4,393.91 L416.7,401.98 L417,409.27 L417.3,415.84 L417.6,421.74 L417.9,427.02 L418.2,431.73 L418.5,435.93 L418.8,439.67 L419.1,442.98 L419.4,445.92 L419.7,448.52 L420,450.81 L420.3,452.84 L420.6,454.62 L420.9,456.19 L421.2,457.57 L421.5,458.78 L421.8,459.84 L422.4,467.8 L423,466 L423.75,381.75 L424.55,316.96 L425.2,296.5 L425.5,308.38 L425.8,321.74 L426.1,334.93 L426.4,347.51 L426.7,359.32 L427,370.26 L427.3,380.33 L427.6,389.54 L427.9,397.92 L428.2,405.51 L428.5,412.36 L428.8,418.53 L429.1,424.06 L429.4,429.02 L429.7,433.45 L430,437.4 L430.3,440.91 L430.6,444.04 L430.9,446.81 L431.2,449.26 L431.5,451.44 L431.8,453.35 L432.1,455.05 L432.4,456.54 L432.7,457.85 L433,459.01 L433.3,460.02 L433.8,467.8 L434.4,466 L435.15,383.6 L435.95,320.22 L436.6,300.2 L436.9,311.96 L437.2,325.18 L437.5,338.2 L437.8,350.62 L438.1,362.25 L438.4,373.03 L438.7,382.92 L439,391.96 L439.3,400.17 L439.6,407.6 L439.9,414.29 L440.2,420.31 L440.5,425.71 L440.8,430.53 L441.1,434.83 L441.4,438.66 L441.7,442.07 L442,445.09 L442.3,447.76 L442.6,450.13 L442.9,452.22 L443.2,454.06 L443.5,455.69 L443.8,457.11 L444.1,458.37 L444.4,459.47 L445,467.8 L445.6,466 L446.35,377.6 L447.15,309.66 L447.8,288.2 L448.1,300.33 L448.4,314.01 L448.7,327.55 L449,340.5 L449.3,352.68 L449.6,364 L449.9,374.45 L450.2,384.03 L450.5,392.78 L450.8,400.73 L451.1,407.92 L451.4,414.42 L451.7,420.28 L452,425.53 L452.3,430.25 L452.6,434.46 L452.9,438.23 L453.2,441.59 L453.5,444.58 L453.8,447.24 L454.1,449.6 L454.4,451.69 L454.7,453.54 L455,455.18 L455.3,456.62 L455.6,457.9 L455.9,459.03 L456.5,467.8 L457.1,466 L457.85,378 L458.65,310.36 L459.3,289 L459.6,301.11 L459.9,314.76 L460.2,328.26 L460.5,341.18 L460.8,353.32 L461.1,364.61 L461.4,375.02 L461.7,384.57 L462,393.28 L462.3,401.19 L462.6,408.36 L462.9,414.82 L463.2,420.65 L463.5,425.88 L463.8,430.56 L464.1,434.75 L464.4,438.5 L464.7,441.83 L465,444.8 L465.3,447.44 L465.6,449.78 L465.9,451.85 L466.2,453.69 L466.5,455.31 L466.8,456.75 L467.1,458.01 L467.4,459.13 L467.8,467.8 L468.4,466 L469.15,376.85 L469.95,308.34 L470.6,286.7 L470.9,298.88 L471.2,312.61 L471.5,326.21 L471.8,339.22 L472.1,351.47 L472.4,362.86 L472.7,373.38 L473,383.03 L473.3,391.84 L473.6,399.85 L473.9,407.11 L474.2,413.67 L474.5,419.58 L474.8,424.89 L475.1,429.65 L475.4,433.92 L475.7,437.73 L476,441.13 L476.3,444.16 L476.6,446.86 L476.9,449.25 L477.2,451.37 L477.5,453.25 L477.8,454.92 L478.1,456.39 L478.4,457.69 L479,467.8 L479.6,466 L480.35,381.05 L481.15,315.73 L481.8,295.1 L482.1,307.02 L482.4,320.44 L482.7,333.69 L483,346.34 L483.3,358.2 L483.6,369.21 L483.9,379.35 L484.2,388.62 L484.5,397.06 L484.8,404.71 L485.1,411.62 L485.4,417.84 L485.7,423.43 L486,428.44 L486.3,432.92 L486.6,436.91 L486.9,440.47 L487.2,443.63 L487.5,446.44 L487.8,448.93 L488.1,451.13 L488.4,453.08 L488.7,454.8 L489,456.32 L489.3,457.65 L489.6,458.83 L489.9,459.86 L490.8,465 L490.8,467 Z" fill="url(#gd)"/>
<path d="M259.2,468.5 L260.2,468.8 L262,464.4 L263.7,466.2 L265.4,468.8 L266.3,458.3 L268,457.5 L268.9,460 L269.8,467 L270.7,470.5 L272.4,467 L274.2,463.5 L275.9,459.2 L277.6,450.5 L279.4,455.7 L282,456.6 L284.6,457.5 L286.3,460 L287.2,469.6 L289,449.6 L289.8,457.5 L292.4,459.2 L295,460 L297.7,462.7 L298.5,468.8 L297.8,467.8 L298.4,466 L299.15,434.2 L299.95,409.27 L300.6,401.4 L300.9,408.19 L301.2,415.52 L301.5,422.42 L301.8,428.69 L302.1,434.27 L302.4,439.17 L302.7,443.43 L303,447.12 L303.3,450.28 L303.6,452.98 L303.9,455.27 L304.2,457.22 L304.5,458.86 L304.8,460.23 L305.1,461.39 L305.4,462.36 L305.7,463.17 L306,463.84 L306.3,464.4 L306.6,464.86 L306.9,465.25 L307.2,464.96 L307.5,464.74 L307.8,464.71 L308.1,464.89 L308.4,465.21 L308.9,467.8 L309.5,466 L310.25,431.4 L311.05,404.34 L311.7,395.8 L312,402.99 L312.3,410.77 L312.6,418.13 L312.9,424.84 L313.2,430.83 L313.5,436.11 L313.8,440.73 L314.1,444.74 L314.4,448.19 L314.7,451.16 L315,453.69 L315.3,455.84 L315.6,457.67 L315.9,459.21 L316.2,460.51 L316.5,461.61 L316.8,462.52 L317.1,463.29 L317.4,463.93 L317.7,464.46 L318,464.74 L318.3,464.71 L318.6,464.89 L318.9,465.21 L319.2,465.62 L319.5,465.99 L319.8,466.23 L320.1,466.3 L320.5,467.8 L321.1,466 L321.85,417.15 L322.65,379.26 L323.3,367.3 L323.6,376.23 L323.9,386.05 L324.2,395.47 L324.5,404.2 L324.8,412.15 L325.1,419.28 L325.4,425.64 L325.7,431.26 L326,436.2 L326.3,440.52 L326.6,444.29 L326.9,447.57 L327.2,450.4 L327.5,452.85 L327.8,454.96 L328.1,456.77 L328.4,458.32 L328.7,459.64 L329,460.78 L329.3,461.74 L329.6,462.56 L329.9,463.26 L330.2,463.85 L330.5,464.35 L330.8,464.78 L331.1,465.13 L331.4,465.44 L331.9,467.8 L332.5,466 L333.25,403 L334.05,354.36 L334.7,339 L335,349.3 L335.3,360.75 L335.6,371.87 L335.9,382.32 L336.2,391.96 L336.5,400.75 L336.8,408.7 L337.1,415.83 L337.4,422.2 L337.7,427.87 L338,432.89 L338.3,437.32 L338.6,441.22 L338.9,444.65 L339.2,447.65 L339.5,450.27 L339.8,452.56 L340.1,454.55 L340.4,456.27 L340.7,457.77 L341,459.07 L341.3,460.2 L341.6,461.17 L341.9,462 L342.2,462.73 L342.5,463.35 L343,467.8 L343.6,466 L344.35,401.5 L345.15,351.72 L345.8,336 L346.1,346.43 L346.4,358.03 L346.7,369.32 L347,379.94 L347.3,389.74 L347.6,398.7 L347.9,406.8 L348.2,414.09 L348.5,420.61 L348.8,426.42 L349.1,431.57 L349.4,436.12 L349.7,440.14 L350,443.67 L350.3,446.77 L350.6,449.48 L350.9,451.85 L351.2,453.92 L351.5,455.71 L351.8,457.28 L352.1,458.63 L352.4,459.81 L352.7,460.82 L353,461.7 L353.3,462.46 L353.6,463.11 L353.9,463.67 L354.4,467.8 L355,466 L355.75,388.95 L356.55,329.63 L357.2,310.9 L357.5,322.3 L357.8,335.07 L358.1,347.62 L358.4,359.53 L358.7,370.65 L359,380.91 L359.3,390.29 L359.6,398.82 L359.9,406.54 L360.2,413.5 L360.5,419.74 L360.8,425.32 L361.1,430.31 L361.4,434.74 L361.7,438.68 L362,442.17 L362.3,445.25 L362.6,447.98 L362.9,450.38 L363.2,452.5 L363.5,454.36 L363.8,455.99 L364.1,457.42 L364.4,458.67 L364.7,459.76 L365,460.72 L365.3,461.55 L365.8,467.8 L366.4,466 L367.15,388.95 L367.95,329.63 L368.6,310.9 L368.9,322.3 L369.2,335.07 L369.5,347.62 L369.8,359.53 L370.1,370.65 L370.4,380.91 L370.7,390.29 L371,398.82 L371.3,406.54 L371.6,413.5 L371.9,419.74 L372.2,425.32 L372.5,430.31 L372.8,434.74 L373.1,438.68 L373.4,442.17 L373.7,445.25 L374,447.98 L374.3,450.38 L374.6,452.5 L374.9,454.36 L375.2,455.99 L375.5,457.42 L375.8,458.67 L376.1,459.76 L376.4,460.72 L376.7,461.55 L377.1,467.8 L377.7,466 L378.45,393.35 L379.25,337.38 L379.9,319.7 L380.2,330.78 L380.5,343.16 L380.8,355.29 L381.1,366.77 L381.4,377.45 L381.7,387.26 L382,396.21 L382.3,404.32 L382.6,411.62 L382.9,418.18 L383.2,424.04 L383.5,429.27 L383.8,433.91 L384.1,438.03 L384.4,441.67 L384.7,444.88 L385,447.71 L385.3,450.2 L385.6,452.38 L385.9,454.3 L386.2,455.97 L386.5,457.44 L386.8,458.71 L387.1,459.83 L387.4,460.8 L387.7,461.64 L388,462.37 L388.4,467.8 L389,466 L389.75,390.5 L390.55,332.36 L391.2,314 L391.5,325.29 L391.8,337.92 L392.1,350.33 L392.4,362.09 L392.7,373.06 L393,383.16 L393.3,392.39 L393.6,400.77 L393.9,408.35 L394.2,415.16 L394.5,421.27 L394.8,426.73 L395.1,431.59 L395.4,435.92 L395.7,439.75 L396,443.14 L396.3,446.14 L396.6,448.78 L396.9,451.1 L397.2,453.15 L397.5,454.94 L397.8,456.51 L398.1,457.89 L398.4,459.09 L398.7,460.14 L399,461.05 L399.6,467.8 L400.2,466 L400.95,393.45 L401.75,337.55 L402.4,319.9 L402.7,330.97 L403,343.34 L403.3,355.46 L403.6,366.93 L403.9,377.6 L404.2,387.4 L404.5,396.34 L404.8,404.44 L405.1,411.74 L405.4,418.28 L405.7,424.14 L406,429.35 L406.3,433.99 L406.6,438.1 L406.9,441.73 L407.2,444.94 L407.5,447.76 L407.8,450.25 L408.1,452.43 L408.4,454.34 L408.7,456.01 L409,457.47 L409.3,458.74 L409.6,459.85 L409.9,460.82 L410.2,461.66 L410.5,462.39 L410.8,463.02 L411.2,467.8 L411.8,466 L412.55,385.1 L413.35,322.86 L414,303.2 L414.3,314.86 L414.6,327.96 L414.9,340.85 L415.2,353.13 L415.5,364.62 L415.8,375.25 L416.1,385.01 L416.4,393.91 L416.7,401.98 L417,409.27 L417.3,415.84 L417.6,421.74 L417.9,427.02 L418.2,431.73 L418.5,435.93 L418.8,439.67 L419.1,442.98 L419.4,445.92 L419.7,448.52 L420,450.81 L420.3,452.84 L420.6,454.62 L420.9,456.19 L421.2,457.57 L421.5,458.78 L421.8,459.84 L422.4,467.8 L423,466 L423.75,381.75 L424.55,316.96 L425.2,296.5 L425.5,308.38 L425.8,321.74 L426.1,334.93 L426.4,347.51 L426.7,359.32 L427,370.26 L427.3,380.33 L427.6,389.54 L427.9,397.92 L428.2,405.51 L428.5,412.36 L428.8,418.53 L429.1,424.06 L429.4,429.02 L429.7,433.45 L430,437.4 L430.3,440.91 L430.6,444.04 L430.9,446.81 L431.2,449.26 L431.5,451.44 L431.8,453.35 L432.1,455.05 L432.4,456.54 L432.7,457.85 L433,459.01 L433.3,460.02 L433.8,467.8 L434.4,466 L435.15,383.6 L435.95,320.22 L436.6,300.2 L436.9,311.96 L437.2,325.18 L437.5,338.2 L437.8,350.62 L438.1,362.25 L438.4,373.03 L438.7,382.92 L439,391.96 L439.3,400.17 L439.6,407.6 L439.9,414.29 L440.2,420.31 L440.5,425.71 L440.8,430.53 L441.1,434.83 L441.4,438.66 L441.7,442.07 L442,445.09 L442.3,447.76 L442.6,450.13 L442.9,452.22 L443.2,454.06 L443.5,455.69 L443.8,457.11 L444.1,458.37 L444.4,459.47 L445,467.8 L445.6,466 L446.35,377.6 L447.15,309.66 L447.8,288.2 L448.1,300.33 L448.4,314.01 L448.7,327.55 L449,340.5 L449.3,352.68 L449.6,364 L449.9,374.45 L450.2,384.03 L450.5,392.78 L450.8,400.73 L451.1,407.92 L451.4,414.42 L451.7,420.28 L452,425.53 L452.3,430.25 L452.6,434.46 L452.9,438.23 L453.2,441.59 L453.5,444.58 L453.8,447.24 L454.1,449.6 L454.4,451.69 L454.7,453.54 L455,455.18 L455.3,456.62 L455.6,457.9 L455.9,459.03 L456.5,467.8 L457.1,466 L457.85,378 L458.65,310.36 L459.3,289 L459.6,301.11 L459.9,314.76 L460.2,328.26 L460.5,341.18 L460.8,353.32 L461.1,364.61 L461.4,375.02 L461.7,384.57 L462,393.28 L462.3,401.19 L462.6,408.36 L462.9,414.82 L463.2,420.65 L463.5,425.88 L463.8,430.56 L464.1,434.75 L464.4,438.5 L464.7,441.83 L465,444.8 L465.3,447.44 L465.6,449.78 L465.9,451.85 L466.2,453.69 L466.5,455.31 L466.8,456.75 L467.1,458.01 L467.4,459.13 L467.8,467.8 L468.4,466 L469.15,376.85 L469.95,308.34 L470.6,286.7 L470.9,298.88 L471.2,312.61 L471.5,326.21 L471.8,339.22 L472.1,351.47 L472.4,362.86 L472.7,373.38 L473,383.03 L473.3,391.84 L473.6,399.85 L473.9,407.11 L474.2,413.67 L474.5,419.58 L474.8,424.89 L475.1,429.65 L475.4,433.92 L475.7,437.73 L476,441.13 L476.3,444.16 L476.6,446.86 L476.9,449.25 L477.2,451.37 L477.5,453.25 L477.8,454.92 L478.1,456.39 L478.4,457.69 L479,467.8 L479.6,466 L480.35,381.05 L481.15,315.73 L481.8,295.1 L482.1,307.02 L482.4,320.44 L482.7,333.69 L483,346.34 L483.3,358.2 L483.6,369.21 L483.9,379.35 L484.2,388.62 L484.5,397.06 L484.8,404.71 L485.1,411.62 L485.4,417.84 L485.7,423.43 L486,428.44 L486.3,432.92 L486.6,436.91 L486.9,440.47 L487.2,443.63 L487.5,446.44 L487.8,448.93 L488.1,451.13 L488.4,453.08 L488.7,454.8 L489,456.32 L489.3,457.65 L489.6,458.83 L489.9,459.86" fill="none" stroke="#3040e6" stroke-width="1.05" stroke-linejoin="round"/>
<path d="M258.7,262 H491 V486.2" fill="none" stroke="#9a9a9a" stroke-width="1.2"/>
<path d="M258.7,262 V486.2 H491" fill="none" stroke="#7a7a7a" stroke-width="1.6"/>
<path d="M256.2,262.18 H258.7 M256.2,271.49 H258.7 M256.2,280.8 H258.7 M256.2,290.11 H258.7 M256.2,299.42 H258.7 M256.2,308.73 H258.7 M256.2,318.04 H258.7 M256.2,327.35 H258.7 M256.2,336.66 H258.7 M256.2,345.97 H258.7 M256.2,355.28 H258.7 M256.2,364.59 H258.7 M256.2,373.9 H258.7 M256.2,383.21 H258.7 M256.2,392.52 H258.7 M256.2,401.83 H258.7 M256.2,411.14 H258.7 M256.2,420.45 H258.7 M256.2,429.76 H258.7 M256.2,439.07 H258.7 M256.2,448.38 H258.7 M256.2,457.69 H258.7 M256.2,467 H258.7 M256.2,476.31 H258.7 M256.2,485.62 H258.7 M254.4,467 H258.7 M254.4,429.76 H258.7 M254.4,392.52 H258.7 M254.4,355.28 H258.7 M254.4,318.04 H258.7 M254.4,280.8 H258.7 " stroke="#7a7a7a" stroke-width="0.9" fill="none"/>
<text x="252" y="468.98" font-family='"Liberation Sans", sans-serif' font-size="5.5" font-weight="normal" text-anchor="end" fill="#3a3a3a" stroke="#3a3a3a" stroke-width="0.12">0</text>
<text x="252" y="431.74" font-family='"Liberation Sans", sans-serif' font-size="5.5" font-weight="normal" text-anchor="end" fill="#3a3a3a" stroke="#3a3a3a" stroke-width="0.12">20</text>
<text x="252" y="394.5" font-family='"Liberation Sans", sans-serif' font-size="5.5" font-weight="normal" text-anchor="end" fill="#3a3a3a" stroke="#3a3a3a" stroke-width="0.12">40</text>
<text x="252" y="357.26" font-family='"Liberation Sans", sans-serif' font-size="5.5" font-weight="normal" text-anchor="end" fill="#3a3a3a" stroke="#3a3a3a" stroke-width="0.12">60</text>
<text x="252" y="320.02" font-family='"Liberation Sans", sans-serif' font-size="5.5" font-weight="normal" text-anchor="end" fill="#3a3a3a" stroke="#3a3a3a" stroke-width="0.12">80</text>
<text x="252" y="282.78" font-family='"Liberation Sans", sans-serif' font-size="5.5" font-weight="normal" text-anchor="end" fill="#3a3a3a" stroke="#3a3a3a" stroke-width="0.12">100</text>
<path d="M259.8,486.2 V488.5 M267.39,486.2 V488.5 M274.98,486.2 V488.5 M282.57,486.2 V488.5 M290.16,486.2 V488.5 M297.75,486.2 V488.5 M305.34,486.2 V488.5 M312.93,486.2 V488.5 M320.52,486.2 V488.5 M328.11,486.2 V488.5 M335.7,486.2 V488.5 M343.29,486.2 V488.5 M350.88,486.2 V488.5 M358.47,486.2 V488.5 M366.06,486.2 V488.5 M373.65,486.2 V488.5 M381.24,486.2 V488.5 M388.83,486.2 V488.5 M396.42,486.2 V488.5 M404.01,486.2 V488.5 M411.6,486.2 V488.5 M419.19,486.2 V488.5 M426.78,486.2 V488.5 M434.37,486.2 V488.5 M441.96,486.2 V488.5 M449.55,486.2 V488.5 M457.14,486.2 V488.5 M464.73,486.2 V488.5 M472.32,486.2 V488.5 M479.91,486.2 V488.5 M487.5,486.2 V488.5 M259.8,486.2 V489.2 M282.56,486.2 V489.2 M305.32,486.2 V489.2 M328.08,486.2 V489.2 M350.84,486.2 V489.2 M373.6,486.2 V489.2 M396.36,486.2 V489.2 M419.12,486.2 V489.2 M441.88,486.2 V489.2 M464.64,486.2 V489.2 M487.4,486.2 V489.2 " stroke="#7a7a7a" stroke-width="0.9" fill="none"/>
<text x="259.8" y="497.8" font-family='"Liberation Sans", sans-serif' font-size="5.9" font-weight="normal" text-anchor="middle" fill="#3a3a3a" stroke="#3a3a3a" stroke-width="0.12">0</text>
<text x="282.56" y="497.8" font-family='"Liberation Sans", sans-serif' font-size="5.9" font-weight="normal" text-anchor="middle" fill="#3a3a3a" stroke="#3a3a3a" stroke-width="0.12">500</text>
<text x="305.32" y="497.8" font-family='"Liberation Sans", sans-serif' font-size="5.9" font-weight="normal" text-anchor="middle" fill="#3a3a3a" stroke="#3a3a3a" stroke-width="0.12">1000</text>
<text x="328.08" y="497.8" font-family='"Liberation Sans", sans-serif' font-size="5.9" font-weight="normal" text-anchor="middle" fill="#3a3a3a" stroke="#3a3a3a" stroke-width="0.12">1500</text>
<text x="350.84" y="497.8" font-family='"Liberation Sans", sans-serif' font-size="5.9" font-weight="normal" text-anchor="middle" fill="#3a3a3a" stroke="#3a3a3a" stroke-width="0.12">2000</text>
<text x="373.6" y="497.8" font-family='"Liberation Sans", sans-serif' font-size="5.9" font-weight="normal" text-anchor="middle" fill="#3a3a3a" stroke="#3a3a3a" stroke-width="0.12">2500</text>
<text x="396.36" y="497.8" font-family='"Liberation Sans", sans-serif' font-size="5.9" font-weight="normal" text-anchor="middle" fill="#3a3a3a" stroke="#3a3a3a" stroke-width="0.12">3000</text>
<text x="419.12" y="497.8" font-family='"Liberation Sans", sans-serif' font-size="5.9" font-weight="normal" text-anchor="middle" fill="#3a3a3a" stroke="#3a3a3a" stroke-width="0.12">3500</text>
<text x="441.88" y="497.8" font-family='"Liberation Sans", sans-serif' font-size="5.9" font-weight="normal" text-anchor="middle" fill="#3a3a3a" stroke="#3a3a3a" stroke-width="0.12">4000</text>
<text x="464.64" y="497.8" font-family='"Liberation Sans", sans-serif' font-size="5.9" font-weight="normal" text-anchor="middle" fill="#3a3a3a" stroke="#3a3a3a" stroke-width="0.12">4500</text>
<text x="487.4" y="497.8" font-family='"Liberation Sans", sans-serif' font-size="5.9" font-weight="normal" text-anchor="middle" fill="#3a3a3a" stroke="#3a3a3a" stroke-width="0.12">5000</text>
<text x="235.2" y="367.9" font-family='"Liberation Sans", sans-serif' font-size="11.1" font-weight="bold" text-anchor="middle" fill="#000" transform="rotate(-90 235.2 367.9)" dominant-baseline="central">Relative Response (%)</text>
<text x="374.6" y="512.6" font-family='"Liberation Sans", sans-serif' font-size="13.2" font-weight="bold" text-anchor="middle" fill="#000" >time (s)</text>
<text x="296.1" y="303.6" font-family='"Liberation Serif", serif' font-size="25" font-weight="normal" text-anchor="middle" fill="#000" >d)</text>
<text x="283.6" y="277.6" font-family='"Liberation Serif", serif' font-size="10.95" font-weight="bold" text-anchor="start" fill="#000" >CO<tspan font-size="7" dy="2">2</tspan><tspan dy="-2">; SnO</tspan><tspan font-size="7" dy="2">2</tspan><tspan dy="-2">:Pd <tspan font-weight="normal">@</tspan> 50 </tspan><tspan font-size="9.5" dy="1.8">°</tspan><tspan dy="-1.8">C</tspan></text></svg></body></html>
